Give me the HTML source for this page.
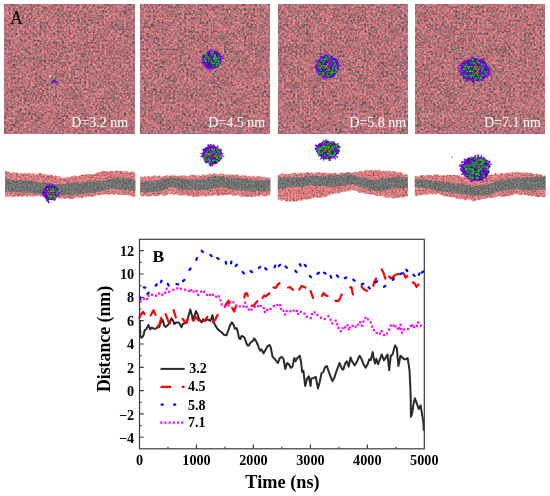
<!DOCTYPE html>
<html><head><meta charset="utf-8"><style>
html,body{margin:0;padding:0;background:#fff;width:550px;height:496px;overflow:hidden}
svg{display:block}
</style></head><body>
<svg width="550" height="496" viewBox="0 0 550 496">
<defs>
<filter id="tex" x="0" y="0" width="100%" height="100%" color-interpolation-filters="sRGB">
 <feTurbulence type="fractalNoise" baseFrequency="0.45" numOctaves="2" seed="7" result="n0"/>
 <feColorMatrix in="n0" type="matrix" values="1 0 0 0 0  0 1 0 0 0  0 0 1 0 0  0 0 0 0 1" result="n"/>
 <feTurbulence type="fractalNoise" baseFrequency="0.09" numOctaves="3" seed="3" result="l0"/>
 <feColorMatrix in="l0" type="matrix" values="1 0 0 0 0  1 0 0 0 0  1 0 0 0 0  0 0 0 0 1" result="lf"/>
 <feComposite in="n" in2="lf" operator="arithmetic" k1="0" k2="1" k3="0.14" k4="-0.07" result="nm"/>
 <feColorMatrix in="nm" type="matrix" values="3 0 0 0 -0.760  0 3 0 0 -1  0 0 0 0 0  0 0 0 0 1" result="t"/>
 <feColorMatrix in="t" type="matrix" values="0.471 0.173 0 0 0.290  0.055 0.173 0 0 0.322  0.047 0.173 0 0 0.353  0 0 0 0 1"/>
 <feGaussianBlur stdDeviation="0.3"/>
</filter>
<filter id="mpink" x="0" y="0" width="100%" height="100%" color-interpolation-filters="sRGB">
 <feTurbulence type="fractalNoise" baseFrequency="0.6" numOctaves="2" seed="11" result="n0"/>
 <feColorMatrix in="n0" type="matrix" values="1 0 0 0 0  0 1 0 0 0  0 0 1 0 0  0 0 0 0 1" result="n"/>
 <feTurbulence type="fractalNoise" baseFrequency="0.09" numOctaves="3" seed="3" result="l0"/>
 <feColorMatrix in="l0" type="matrix" values="1 0 0 0 0  1 0 0 0 0  1 0 0 0 0  0 0 0 0 1" result="lf"/>
 <feComposite in="n" in2="lf" operator="arithmetic" k1="0" k2="1" k3="0.12" k4="-0.06" result="nm"/>
 <feColorMatrix in="nm" type="matrix" values="4 0 0 0 -0.780  0 3 0 0 -1  0 0 0 0 0  0 0 0 0 1" result="t"/>
 <feColorMatrix in="t" type="matrix" values="0.341 0.196 0 0 0.431  0.141 0.196 0 0 0.255  0.125 0.196 0 0 0.275  0 0 0 0 1"/>
 <feComposite in2="SourceGraphic" operator="in"/>
</filter>
<filter id="mgrey" x="0" y="0" width="100%" height="100%" color-interpolation-filters="sRGB">
 <feTurbulence type="fractalNoise" baseFrequency="0.6" numOctaves="2" seed="13" result="n0"/>
 <feColorMatrix in="n0" type="matrix" values="1 0 0 0 0  0 1 0 0 0  0 0 1 0 0  0 0 0 0 1" result="n"/>
 <feTurbulence type="fractalNoise" baseFrequency="0.09" numOctaves="3" seed="3" result="l0"/>
 <feColorMatrix in="l0" type="matrix" values="1 0 0 0 0  1 0 0 0 0  1 0 0 0 0  0 0 0 0 1" result="lf"/>
 <feComposite in="n" in2="lf" operator="arithmetic" k1="0" k2="1" k3="0.12" k4="-0.06" result="nm"/>
 <feColorMatrix in="nm" type="matrix" values="4 0 0 0 -2.540  0 3 0 0 -1  0 0 0 0 0  0 0 0 0 1" result="t"/>
 <feColorMatrix in="t" type="matrix" values="0.275 0.157 0 0 0.353  -0.008 0.157 0 0 0.369  0.012 0.157 0 0 0.365  0 0 0 0 1"/>
 <feComposite in2="SourceGraphic" operator="in"/>
</filter>
</defs>
<rect x="4" y="4" width="131" height="130" fill="#c87078" filter="url(#tex)"/>
<rect x="140" y="4" width="130" height="130" fill="#c87078" filter="url(#tex)"/>
<rect x="278" y="4" width="130" height="130" fill="#c87078" filter="url(#tex)"/>
<rect x="415" y="4" width="130" height="130" fill="#c87078" filter="url(#tex)"/>
<polygon points="5.0,171.3 6.3,171.3 7.6,171.8 8.8,171.4 10.1,172.8 11.4,173.0 12.7,173.0 13.9,172.1 15.2,172.8 16.4,172.5 17.6,172.4 18.9,173.7 20.1,173.9 21.4,172.2 22.6,173.7 23.8,173.3 25.1,172.9 26.3,172.8 27.5,173.5 28.8,173.2 30.0,173.6 31.3,173.7 32.5,172.8 33.8,174.0 35.1,174.4 36.4,174.4 37.6,173.9 38.9,172.9 40.2,172.9 41.4,173.2 42.7,174.7 44.0,173.7 45.3,174.0 46.5,175.2 47.8,174.3 49.1,174.9 50.4,174.9 51.7,174.4 52.9,175.6 54.2,176.2 55.5,175.2 56.8,175.7 58.0,176.4 59.3,176.1 60.5,177.3 61.8,178.3 63.1,177.9 64.4,177.5 65.6,178.0 66.9,176.6 68.2,177.2 69.5,176.7 70.7,176.9 72.0,175.8 73.3,176.8 74.6,175.4 75.8,175.4 77.1,176.3 78.4,176.4 79.6,175.3 80.9,175.0 82.2,174.6 83.4,174.5 84.7,175.0 86.0,174.1 87.2,173.9 88.5,174.3 89.8,173.7 91.1,174.4 92.3,174.6 93.6,174.4 94.8,173.5 96.1,173.0 97.3,172.8 98.6,171.7 99.8,172.7 101.1,171.6 102.3,171.3 103.6,170.5 104.8,171.2 106.0,171.4 107.2,171.0 108.5,171.8 109.7,171.4 110.9,170.6 112.1,171.1 113.3,171.8 114.5,171.0 115.8,171.2 117.0,170.1 118.2,170.9 119.4,170.9 120.6,170.9 121.9,171.1 123.1,171.5 124.3,171.5 125.5,171.5 126.8,171.0 128.0,171.7 129.2,172.7 130.4,171.8 131.6,171.2 132.9,171.3 134.1,172.4 135.3,172.4 135.3,196.4 134.1,196.6 132.9,196.9 131.6,196.2 130.4,195.6 129.2,195.4 128.0,195.2 126.8,195.1 125.5,195.3 124.3,195.0 123.1,194.7 121.9,194.9 120.6,194.5 119.4,195.1 118.2,195.2 117.0,194.0 115.8,194.0 114.5,194.9 113.3,194.4 112.1,194.0 110.9,194.1 109.7,194.5 108.5,195.2 107.2,194.2 106.0,194.5 104.8,194.2 103.6,195.3 102.3,194.3 101.1,194.9 99.8,195.3 98.6,194.9 97.3,196.0 96.1,195.1 94.8,196.5 93.6,196.3 92.3,197.1 91.1,196.9 89.8,196.3 88.5,197.0 87.2,196.0 86.0,197.7 84.7,196.4 83.4,197.9 82.2,198.3 80.9,197.4 79.6,197.7 78.4,197.9 77.1,197.2 75.8,197.7 74.6,198.2 73.3,199.1 72.0,198.7 70.7,199.1 69.5,199.4 68.2,198.1 66.9,198.6 65.6,198.8 64.4,198.9 63.1,198.1 61.8,198.6 60.5,198.8 59.3,198.7 58.0,197.7 56.7,197.8 55.4,198.3 54.2,197.1 52.9,197.3 51.6,197.2 50.3,198.2 49.1,197.8 47.8,196.4 46.5,196.5 45.2,196.4 44.0,197.3 42.7,196.4 41.4,197.1 40.2,196.1 38.9,195.9 37.6,195.7 36.4,196.6 35.1,195.7 33.8,196.4 32.5,196.9 31.3,196.5 30.0,196.1 28.8,195.9 27.5,197.0 26.2,195.9 25.0,195.8 23.8,196.2 22.5,197.2 21.2,196.0 20.0,195.7 18.8,197.3 17.5,196.2 16.2,195.8 15.0,196.5 13.8,197.0 12.5,197.1 11.2,196.6 10.0,195.9 8.8,197.1 7.5,196.8 6.2,196.6 5.0,197.0" fill="#d77a7c" filter="url(#mpink)"/><polygon points="5.0,179.7 6.2,179.5 7.5,179.2 8.8,180.0 10.0,179.5 11.2,179.6 12.5,179.8 13.8,180.2 15.0,180.6 16.2,180.0 17.5,180.7 18.8,180.7 20.0,179.9 21.2,179.8 22.5,180.0 23.8,180.9 25.0,180.7 26.2,181.1 27.5,181.3 28.8,181.0 30.0,180.9 31.3,180.6 32.5,180.7 33.8,181.8 35.1,181.9 36.4,182.2 37.6,182.1 38.9,182.4 40.2,182.6 41.4,183.1 42.7,182.3 44.0,182.9 45.3,182.8 46.5,183.6 47.8,183.8 49.1,183.2 50.4,183.1 51.7,183.4 52.9,183.6 54.2,184.3 55.5,184.0 56.8,184.4 58.0,183.9 59.3,184.1 60.5,183.7 61.8,184.3 63.1,183.9 64.4,184.0 65.6,183.9 66.9,183.1 68.2,182.3 69.5,183.3 70.7,183.2 72.0,182.6 73.3,182.5 74.6,183.0 75.8,182.1 77.1,182.1 78.4,182.6 79.6,182.5 80.9,182.4 82.2,182.5 83.4,182.0 84.7,181.7 86.0,181.4 87.2,181.2 88.5,181.3 89.8,181.2 91.1,181.4 92.3,181.2 93.6,180.9 94.8,180.7 96.1,180.9 97.3,180.6 98.6,181.0 99.8,180.8 101.1,180.8 102.3,180.3 103.6,180.4 104.8,180.4 106.0,180.5 107.2,179.7 108.5,179.2 109.7,179.4 110.9,178.5 112.1,178.5 113.3,177.9 114.5,178.3 115.8,177.7 117.0,177.6 118.2,177.8 119.4,177.8 120.6,177.2 121.9,177.9 123.1,177.5 124.3,178.6 125.5,178.4 126.8,179.0 128.0,178.4 129.2,179.2 130.4,178.6 131.6,179.6 132.9,179.2 134.1,178.9 135.3,179.6 135.3,191.3 134.1,190.6 132.9,191.0 131.6,190.7 130.4,190.9 129.2,190.4 128.0,190.1 126.8,190.6 125.5,189.8 124.3,190.3 123.1,189.3 121.9,189.0 120.6,190.0 119.4,189.6 118.2,189.5 116.8,188.8 115.5,188.9 114.1,189.1 112.7,189.0 111.4,189.0 110.0,188.8 108.8,189.8 107.5,189.4 106.2,189.5 105.0,190.7 103.8,190.5 102.5,190.7 101.2,191.6 100.0,192.3 98.7,191.4 97.4,191.6 96.2,192.5 94.9,192.2 93.6,192.9 92.3,193.1 91.1,192.8 89.8,192.4 88.5,192.8 87.2,193.6 86.0,193.1 84.7,194.0 83.4,194.3 82.2,194.0 80.9,193.9 79.6,193.8 78.4,193.9 77.1,194.8 75.8,194.6 74.6,194.6 73.3,194.4 72.0,195.2 70.7,194.6 69.5,195.4 68.2,195.5 66.9,194.5 65.6,195.1 64.4,195.7 63.1,194.9 61.8,195.6 60.5,194.9 59.3,195.3 58.0,195.3 56.7,195.1 55.4,194.3 54.2,194.7 52.9,194.3 51.6,195.0 50.3,194.9 49.1,194.2 47.8,194.5 46.5,193.8 45.2,193.4 44.0,193.3 42.7,193.3 41.4,193.8 40.2,193.3 38.9,193.8 37.6,193.8 36.4,192.8 35.1,193.7 33.8,193.6 32.5,193.1 31.3,192.6 30.0,193.6 28.8,192.4 27.5,193.0 26.2,192.3 25.0,193.2 23.8,192.5 22.5,192.6 21.2,192.6 20.0,191.9 18.8,192.7 17.5,191.7 16.2,192.1 15.0,192.6 13.8,191.9 12.5,191.6 11.2,192.2 10.0,192.5 8.8,191.7 7.5,191.3 6.2,192.3 5.0,191.8" fill="#737373" filter="url(#mgrey)"/>
<polygon points="140.3,176.4 141.6,176.6 142.9,177.2 144.2,176.3 145.5,176.4 146.8,176.5 148.1,175.7 149.4,176.3 150.7,176.4 152.0,176.7 153.3,175.4 154.5,175.7 155.8,175.3 157.1,176.6 158.4,176.3 159.7,175.1 160.9,176.7 162.2,176.7 163.5,176.1 164.8,176.0 166.1,175.3 167.4,175.0 168.7,176.0 170.0,175.2 171.2,175.4 172.4,175.4 173.6,175.0 174.8,175.7 176.0,175.6 177.2,176.3 178.5,175.6 179.7,175.8 180.9,175.5 182.1,175.7 183.3,175.3 184.5,174.9 185.7,176.2 186.9,176.2 188.1,175.9 189.3,175.7 190.5,175.0 191.8,174.8 193.0,174.9 194.2,174.5 195.4,175.8 196.6,175.1 197.8,175.9 199.0,175.1 200.2,176.0 201.4,175.7 202.7,174.0 203.9,174.3 205.1,175.4 206.3,174.5 207.5,175.3 208.7,174.1 209.9,173.4 211.2,174.3 212.4,174.4 213.6,173.4 214.8,173.1 216.0,173.6 217.2,174.8 218.4,174.5 219.6,173.4 220.8,173.7 222.0,173.5 223.2,173.5 224.4,174.9 225.6,173.8 226.8,174.5 228.0,174.4 229.3,174.0 230.6,175.1 231.9,174.0 233.2,175.0 234.5,174.2 235.8,174.8 237.1,174.5 238.4,174.6 239.7,176.0 241.0,175.7 242.2,175.0 243.5,176.1 244.7,175.1 245.9,175.5 247.2,176.5 248.4,176.2 249.7,175.4 250.9,177.1 252.1,175.8 253.4,176.0 254.6,177.1 255.8,176.3 257.0,176.3 258.2,176.0 259.4,176.1 260.6,177.0 261.8,176.5 263.1,177.2 264.3,176.8 265.5,177.0 266.7,178.0 267.9,177.2 269.1,177.4 270.3,177.3 270.3,195.7 269.1,195.3 267.9,195.0 266.7,196.5 265.5,195.9 264.3,196.5 263.1,196.6 261.8,195.3 260.6,195.5 259.4,196.9 258.2,195.8 257.0,196.1 255.8,196.3 254.6,197.1 253.3,196.6 252.0,197.2 250.6,197.3 249.3,196.2 248.0,197.2 246.7,197.1 245.3,196.7 244.0,196.7 242.7,196.2 241.5,196.8 240.2,196.7 239.0,195.2 237.8,195.2 236.6,195.4 235.3,195.8 234.1,195.2 232.9,196.2 231.7,195.0 230.4,194.6 229.2,194.5 228.0,195.1 226.8,195.1 225.6,195.2 224.4,194.6 223.2,195.6 222.0,195.3 220.8,195.2 219.6,195.3 218.4,196.3 217.2,195.8 216.0,194.8 214.8,194.7 213.6,195.4 212.4,196.6 211.2,195.5 209.9,195.7 208.7,195.6 207.5,195.8 206.3,196.7 205.1,196.8 203.9,195.6 202.7,196.8 201.4,196.2 200.2,195.7 199.0,196.8 197.8,196.5 196.6,196.7 195.4,196.7 194.2,196.8 193.0,196.9 191.8,195.5 190.5,196.4 189.3,195.4 188.1,196.5 186.9,194.9 185.7,195.1 184.5,195.6 183.3,195.2 182.1,195.5 180.9,195.2 179.7,195.9 178.5,194.3 177.2,195.5 176.0,194.2 174.8,194.4 173.6,195.4 172.4,193.7 171.2,194.3 170.0,193.9 168.7,193.6 167.4,194.8 166.1,195.5 164.8,195.4 163.5,196.1 162.2,194.6 160.9,195.1 159.6,195.3 158.3,196.5 157.0,195.4 155.7,196.4 154.4,196.0 153.1,195.3 151.9,195.7 150.6,196.2 149.3,196.2 148.0,196.8 146.7,196.7 145.4,195.7 144.2,196.2 142.9,196.4 141.6,196.5 140.3,195.6" fill="#d77a7c" filter="url(#mpink)"/><polygon points="140.3,180.9 141.6,181.0 142.9,181.4 144.2,181.7 145.5,181.1 146.8,181.0 148.1,181.2 149.4,181.8 150.7,181.1 152.0,181.5 153.3,181.2 154.5,180.3 155.8,180.5 157.1,180.2 158.4,179.9 159.7,180.3 160.9,179.0 162.2,178.7 163.5,179.5 164.8,178.6 166.1,178.0 167.4,177.9 168.7,177.6 170.0,178.0 171.2,177.3 172.4,177.4 173.6,178.0 174.8,178.0 176.0,178.6 177.2,178.6 178.5,178.1 179.7,178.1 180.9,179.0 182.1,179.3 183.3,178.2 184.5,179.2 185.7,179.4 186.9,179.2 188.1,178.7 189.3,179.5 190.5,179.5 191.8,178.9 193.0,179.5 194.2,179.0 195.4,178.9 196.6,179.3 197.8,179.3 199.0,179.5 200.2,179.5 201.5,179.5 202.7,179.5 203.9,179.2 205.2,179.0 206.4,178.5 207.8,177.5 209.3,176.9 210.7,177.0 212.2,176.5 213.6,176.2 214.8,175.6 216.0,175.9 217.2,176.9 218.4,176.6 219.6,176.9 220.8,176.3 222.0,176.8 223.2,177.5 224.4,177.3 225.6,177.8 226.8,177.0 228.0,177.4 229.2,178.0 230.4,177.7 231.7,178.2 232.9,178.0 234.1,177.6 235.3,177.7 236.6,178.9 237.8,178.0 239.0,178.2 240.2,178.5 241.5,179.0 242.7,179.3 244.0,179.0 245.3,179.1 246.7,179.6 248.0,179.1 249.3,179.4 250.6,179.8 252.0,179.9 253.3,179.3 254.6,179.5 255.8,179.6 257.0,180.3 258.2,180.2 259.4,180.6 260.6,180.3 261.8,179.7 263.1,180.3 264.3,180.6 265.5,179.8 266.7,179.4 267.9,179.9 269.1,179.7 270.3,180.0 270.3,191.6 269.0,191.3 267.8,191.4 266.5,191.1 265.2,191.6 264.0,191.2 262.7,191.0 261.4,191.7 260.1,191.1 258.9,190.9 257.6,191.0 256.3,191.1 255.1,191.7 253.8,191.7 252.5,191.8 251.3,191.2 250.0,191.8 248.8,191.0 247.6,191.5 246.4,190.7 245.2,191.0 244.0,190.3 242.8,190.3 241.5,191.0 240.3,190.2 239.1,190.1 237.9,190.3 236.7,190.2 235.5,189.7 234.3,189.3 233.1,189.9 231.8,189.5 230.6,188.8 229.4,188.8 228.2,188.7 227.0,188.3 225.8,188.4 224.6,187.2 223.3,187.6 222.1,186.7 220.9,187.2 219.7,187.6 218.5,187.8 217.2,187.1 216.0,187.4 214.8,187.7 213.6,188.2 212.2,188.9 210.7,189.6 209.2,189.5 207.8,190.1 206.5,189.8 205.3,190.3 204.0,190.1 202.8,189.8 201.5,189.7 200.3,190.3 199.0,190.5 197.8,190.6 196.6,190.3 195.4,190.5 194.2,189.8 193.0,190.0 191.8,190.6 190.5,190.6 189.3,189.7 188.1,190.1 186.9,190.1 185.7,189.6 184.5,189.3 183.1,190.1 181.6,189.5 180.2,189.5 178.7,188.2 177.3,188.6 176.1,187.7 174.9,188.2 173.7,187.9 172.4,187.1 171.2,187.6 170.0,187.3 168.7,187.1 167.3,188.8 166.0,188.7 164.7,189.7 163.4,190.1 162.1,189.9 160.9,190.9 159.6,190.6 158.3,190.9 157.0,191.6 155.7,192.2 154.4,192.0 153.1,192.2 151.9,192.0 150.6,192.2 149.3,191.9 148.0,192.1 146.7,192.4 145.4,192.3 144.2,192.7 142.9,191.9 141.6,192.0 140.3,192.3" fill="#737373" filter="url(#mgrey)"/>
<polygon points="277.8,174.5 279.1,174.7 280.3,174.6 281.6,173.6 282.8,173.3 284.1,173.8 285.3,173.5 286.6,174.4 287.8,174.1 289.1,173.9 290.3,173.7 291.6,173.8 292.8,172.8 294.1,173.2 295.4,172.6 296.6,173.9 297.9,172.4 299.2,173.7 300.5,172.3 301.7,173.4 303.0,172.7 304.3,172.8 305.6,173.5 306.8,172.0 308.1,172.0 309.4,173.5 310.7,172.7 311.9,171.9 313.2,173.5 314.5,173.5 315.7,172.0 317.0,172.6 318.3,172.1 319.6,172.5 320.8,173.1 322.1,172.3 323.4,173.3 324.7,172.2 325.9,172.5 327.2,173.7 328.5,173.0 329.8,173.1 331.0,173.4 332.3,173.3 333.6,173.0 334.8,172.3 336.1,173.5 337.4,173.9 338.6,173.8 339.9,173.2 341.2,172.6 342.5,172.5 343.7,173.0 345.0,172.9 346.4,171.9 347.7,172.1 349.1,172.3 350.4,172.5 351.8,173.0 353.1,172.4 354.4,171.4 355.7,172.6 357.0,171.7 358.3,171.7 359.6,170.9 361.0,171.1 362.3,170.9 363.6,171.4 364.9,170.0 366.2,170.6 367.5,169.9 368.8,170.9 370.1,169.7 371.4,170.1 372.8,170.2 374.1,170.7 375.4,169.7 376.7,170.4 378.0,170.0 379.3,170.1 380.6,170.5 381.9,171.4 383.2,170.6 384.5,171.6 385.9,170.2 387.2,171.6 388.5,170.7 389.8,170.4 391.1,171.5 392.4,171.8 393.7,170.5 395.0,171.2 396.2,172.4 397.5,171.9 398.8,172.0 400.1,171.9 401.4,172.2 402.7,173.5 403.9,174.4 405.2,174.7 406.5,174.1 407.8,174.4 407.8,196.6 406.5,195.8 405.2,197.6 403.9,197.1 402.7,197.6 401.4,197.7 400.1,197.0 398.8,197.7 397.5,197.9 396.2,197.6 395.0,198.2 393.7,198.8 392.4,198.2 391.1,197.8 389.8,197.6 388.5,198.0 387.2,197.1 385.9,197.8 384.5,197.4 383.2,196.4 381.9,195.6 380.6,196.5 379.3,195.5 378.0,196.1 376.7,196.1 375.4,195.5 374.1,194.4 372.8,194.4 371.4,194.5 370.1,194.3 368.8,194.1 367.5,194.3 366.2,193.4 364.9,194.3 363.6,192.5 362.3,192.7 361.0,192.5 359.6,192.9 358.3,192.4 357.0,191.1 355.7,190.8 354.4,190.2 353.1,191.0 351.8,189.6 350.5,190.7 349.2,191.2 347.9,191.0 346.6,191.5 345.2,191.8 343.9,191.6 342.6,192.3 341.3,192.2 340.0,192.4 338.7,193.7 337.4,193.5 336.1,193.3 334.9,193.8 333.6,194.0 332.3,195.1 331.0,194.0 329.8,195.4 328.5,195.0 327.3,195.7 326.0,197.1 324.7,197.5 323.4,196.3 322.2,197.3 320.9,197.9 319.6,197.7 318.3,196.9 317.0,198.1 315.8,196.9 314.5,197.6 313.2,197.9 311.9,197.9 310.7,199.0 309.4,198.9 308.1,199.5 306.9,199.2 305.6,200.0 304.3,199.1 303.0,199.6 301.8,200.5 300.5,201.3 299.2,199.9 297.9,201.1 296.7,201.6 295.4,201.2 294.1,201.7 292.8,201.2 291.5,200.8 290.3,202.0 289.0,200.7 287.7,202.0 286.5,200.9 285.2,201.2 284.0,200.1 282.8,200.1 281.5,201.4 280.3,199.5 279.0,199.5 277.8,200.8" fill="#d77a7c" filter="url(#mpink)"/><polygon points="277.8,177.2 279.1,177.3 280.3,177.4 281.6,178.0 282.8,177.5 284.1,177.7 285.3,176.9 286.6,177.4 287.8,177.7 289.1,177.3 290.3,177.8 291.6,177.7 292.8,177.0 294.1,176.5 295.4,177.4 296.6,176.6 297.9,176.4 299.2,177.2 300.5,177.3 301.7,177.3 303.0,177.4 304.3,176.4 305.6,176.2 306.8,176.2 308.1,177.2 309.4,176.2 310.7,176.2 311.9,176.0 313.2,176.0 314.5,175.9 315.7,176.2 317.0,176.0 318.3,176.1 319.6,176.8 320.8,175.8 322.1,176.6 323.4,176.4 324.7,176.2 325.9,176.1 327.2,176.3 328.5,176.0 329.8,175.6 331.0,175.6 332.3,175.5 333.6,175.5 334.9,176.1 336.1,175.3 337.4,174.8 338.7,175.1 340.0,175.4 341.3,174.9 342.6,175.2 343.9,174.5 345.2,174.5 346.6,175.2 347.9,174.5 349.2,174.8 350.5,174.9 351.8,174.6 353.1,174.4 354.4,174.7 355.7,176.2 357.0,176.2 358.3,176.9 359.6,176.6 361.0,177.5 362.3,177.7 363.6,177.8 364.9,178.0 366.2,178.3 367.5,178.4 368.8,179.0 370.1,179.8 371.4,179.5 372.7,180.7 374.0,180.1 375.3,179.9 376.7,179.9 378.0,179.4 379.3,178.6 380.6,178.5 381.9,178.0 383.2,177.8 384.5,178.7 385.9,178.1 387.2,178.4 388.5,177.9 389.8,177.2 391.1,177.8 392.4,177.5 393.7,176.9 395.0,176.5 396.2,176.8 397.5,176.6 398.8,176.8 400.1,176.5 401.4,177.3 402.7,177.6 403.9,176.7 405.2,177.3 406.5,177.1 407.8,177.0 407.8,188.1 406.5,187.6 405.2,188.6 403.9,188.8 402.7,188.4 401.4,189.0 400.1,188.3 398.8,188.0 397.5,188.5 396.2,189.0 395.0,188.8 393.7,188.3 392.4,188.3 391.1,188.6 389.8,189.3 388.5,190.2 387.2,189.5 385.9,190.0 384.5,190.8 383.2,190.7 381.9,190.6 380.6,191.2 379.3,191.1 378.0,190.9 376.7,190.8 375.4,191.1 374.1,190.2 372.8,190.3 371.4,189.6 370.1,190.0 368.8,189.9 367.5,188.7 366.2,188.5 364.9,188.1 363.6,187.3 362.3,187.1 361.0,187.3 359.6,186.9 358.3,186.3 357.0,185.6 355.7,185.3 354.4,185.2 353.1,184.1 351.8,184.0 350.5,184.9 349.2,184.4 347.9,185.1 346.6,185.4 345.2,185.9 343.9,185.3 342.6,185.5 341.3,185.8 340.0,186.0 338.7,186.5 337.4,186.3 336.1,186.3 334.9,186.6 333.6,186.6 332.3,187.0 331.0,186.7 329.8,186.2 328.5,186.8 327.3,186.4 326.0,186.4 324.7,186.1 323.4,186.3 322.2,185.9 320.9,185.6 319.6,186.3 318.3,185.7 317.0,185.9 315.8,185.9 314.5,185.6 313.2,185.8 311.9,185.0 310.7,185.2 309.4,185.6 308.1,186.4 306.9,185.6 305.6,185.9 304.3,186.5 303.0,186.7 301.8,185.9 300.5,187.0 299.2,186.8 297.9,186.5 296.7,187.0 295.4,187.3 294.1,186.9 292.8,186.8 291.5,187.5 290.3,187.3 289.0,187.2 287.7,187.8 286.5,187.6 285.2,188.8 284.0,188.8 282.8,189.1 281.5,188.8 280.3,189.1 279.0,189.0 277.8,190.0" fill="#737373" filter="url(#mgrey)"/>
<polygon points="414.8,175.7 416.0,176.4 417.3,176.3 418.5,176.5 419.8,175.2 421.0,175.2 422.2,175.0 423.5,175.1 424.7,175.9 426.0,174.8 427.3,175.4 428.5,174.8 429.8,174.9 431.1,175.0 432.4,175.7 433.7,175.2 434.9,174.1 436.2,174.5 437.5,174.2 438.8,175.5 440.0,175.4 441.3,175.4 442.6,175.4 443.9,175.2 445.1,175.6 446.4,175.3 447.7,174.4 448.9,175.4 450.2,174.8 451.5,175.4 452.7,175.2 454.0,175.1 455.3,175.1 456.5,175.3 457.8,175.2 459.1,175.0 460.4,176.4 461.6,176.5 462.9,177.0 464.1,176.3 465.3,176.0 466.5,176.2 467.7,175.0 468.9,175.9 470.2,175.3 471.4,174.7 472.6,174.7 473.8,175.2 475.0,174.6 476.2,174.9 477.5,175.1 478.7,174.7 479.9,174.2 481.2,174.8 482.4,174.3 483.7,174.3 484.9,174.2 486.1,174.4 487.4,173.9 488.6,174.9 489.8,175.3 491.1,174.1 492.3,174.6 493.6,174.9 494.8,173.1 496.1,173.2 497.3,174.3 498.6,174.2 499.8,173.7 501.1,172.7 502.3,173.0 503.5,173.7 504.8,173.6 506.0,173.4 507.2,172.2 508.5,173.2 509.7,172.2 511.0,172.7 512.2,171.5 513.4,172.9 514.7,172.1 515.9,172.2 517.1,171.4 518.4,172.3 519.6,172.3 520.9,172.5 522.1,172.2 523.4,173.0 524.6,172.4 525.9,172.4 527.1,172.3 528.4,173.4 529.6,172.5 530.8,172.9 532.0,172.8 533.3,174.1 534.5,174.1 535.7,174.3 536.9,173.6 538.2,174.5 539.4,174.6 540.6,174.3 541.8,174.4 543.1,176.4 544.3,175.0 545.5,175.9 545.5,197.1 544.3,197.2 543.1,197.5 541.8,197.1 540.6,196.5 539.4,196.9 538.2,197.2 536.9,196.9 535.7,196.9 534.5,195.8 533.3,195.9 532.0,196.6 530.8,195.7 529.6,195.3 528.4,196.1 527.1,195.5 525.9,194.7 524.6,195.2 523.4,194.3 522.1,194.4 520.9,195.6 519.6,195.5 518.4,194.0 517.1,194.4 515.9,193.5 514.7,193.9 513.4,194.5 512.2,195.7 511.0,194.8 509.7,195.7 508.5,196.3 507.2,195.7 506.0,196.6 504.8,196.6 503.5,197.1 502.3,196.7 501.1,197.1 499.8,195.8 498.6,196.6 497.3,196.1 496.1,197.8 494.8,196.5 493.6,198.0 492.3,197.5 491.1,198.2 489.8,197.7 488.6,197.2 487.4,198.6 486.1,198.7 484.9,199.1 483.7,198.2 482.4,198.8 481.2,199.6 479.9,200.3 478.7,199.7 477.5,200.0 476.2,200.5 475.0,200.7 473.8,201.4 472.6,200.9 471.4,200.2 470.2,199.6 468.9,199.6 467.7,199.5 466.5,199.5 465.3,200.4 464.1,199.4 462.9,199.0 461.6,198.8 460.4,199.4 459.1,198.8 457.8,198.8 456.5,198.7 455.3,198.1 454.0,197.1 452.7,197.3 451.5,197.6 450.2,197.2 448.9,196.5 447.7,196.9 446.4,195.9 445.1,196.7 443.9,195.7 442.6,195.5 441.3,195.0 440.0,195.0 438.8,193.4 437.5,193.6 436.2,194.5 434.9,194.2 433.7,194.1 432.4,194.8 431.1,193.8 429.8,193.8 428.5,194.7 427.3,194.4 426.0,195.0 424.7,194.6 423.5,194.5 422.2,195.3 421.0,195.1 419.8,195.4 418.5,194.5 417.3,195.9 416.0,196.0 414.8,196.0" fill="#d77a7c" filter="url(#mpink)"/><polygon points="414.8,178.7 416.0,178.8 417.3,179.2 418.5,178.6 419.8,179.1 421.0,179.5 422.2,179.6 423.5,178.8 424.7,179.5 426.0,179.6 427.3,179.7 428.5,180.4 429.8,180.1 431.1,180.2 432.4,181.0 433.7,180.8 434.9,180.6 436.2,180.8 437.5,181.2 438.8,180.8 440.0,181.6 441.3,181.9 442.6,181.6 443.9,182.3 445.1,182.5 446.4,182.2 447.7,182.5 448.9,181.9 450.2,182.0 451.5,183.3 452.7,182.6 454.0,182.7 455.3,183.7 456.5,183.7 457.8,183.2 459.1,183.6 460.4,183.7 461.6,183.9 462.9,183.8 464.1,184.6 465.3,184.6 466.5,184.9 467.7,184.9 468.9,185.0 470.2,185.1 471.4,186.3 472.6,186.4 473.8,186.4 475.0,186.0 476.2,185.9 477.5,185.6 478.7,185.6 479.9,185.1 481.2,185.1 482.4,184.8 483.7,184.6 484.9,184.9 486.1,184.5 487.4,184.3 488.6,183.9 489.8,183.8 491.1,183.7 492.3,182.8 493.6,182.1 494.8,182.2 496.1,181.7 497.3,181.8 498.6,180.7 499.8,181.2 501.1,179.8 502.3,180.1 503.5,179.8 504.8,179.4 506.0,179.9 507.2,179.5 508.5,178.7 509.7,178.9 511.0,178.9 512.2,178.0 513.4,177.9 514.7,178.3 515.9,178.3 517.1,177.9 518.4,177.8 519.6,177.8 520.9,177.5 522.1,178.1 523.4,178.2 524.6,177.5 525.9,176.9 527.1,177.3 528.4,177.7 529.6,177.1 530.8,176.8 532.0,176.8 533.3,177.4 534.5,177.2 535.7,176.8 536.9,177.1 538.2,177.2 539.4,177.4 540.6,177.2 541.8,176.7 543.1,177.1 544.3,177.2 545.5,176.6 545.5,189.6 544.3,190.0 543.1,189.3 541.8,189.4 540.6,189.6 539.4,189.6 538.2,190.4 536.9,190.0 535.7,189.7 534.5,190.1 533.3,190.3 532.0,190.0 530.8,190.7 529.6,189.8 528.4,189.6 527.1,190.2 525.9,189.7 524.6,190.2 523.4,190.0 522.1,189.7 520.9,189.9 519.6,189.3 518.4,189.4 517.1,188.8 515.9,189.4 514.7,189.6 513.4,189.9 512.2,189.7 511.0,189.2 509.7,190.4 508.5,190.5 507.2,189.6 506.0,189.8 504.8,190.5 503.5,190.8 502.3,190.4 501.1,191.6 499.8,191.2 498.6,192.2 497.3,191.9 496.1,192.3 494.8,192.6 493.6,193.6 492.3,194.4 491.1,193.7 489.8,194.9 488.6,195.5 487.4,195.4 486.1,195.2 484.9,194.8 483.7,195.4 482.4,196.0 481.2,195.7 479.9,195.3 478.7,195.6 477.5,195.9 476.2,195.4 475.0,196.3 473.8,196.2 472.6,195.2 471.4,195.6 470.2,195.2 468.9,194.7 467.7,195.2 466.5,194.9 465.3,194.5 464.1,193.6 462.9,194.1 461.6,194.3 460.4,193.7 459.1,193.9 457.8,192.9 456.5,193.3 455.3,193.6 454.0,192.7 452.7,193.3 451.5,193.3 450.2,192.1 448.9,191.9 447.7,192.1 446.4,192.1 445.1,191.8 443.9,191.8 442.6,191.8 441.3,191.3 440.0,191.1 438.8,190.4 437.5,190.6 436.2,190.8 434.9,190.6 433.7,189.6 432.4,189.6 431.1,189.8 429.8,189.3 428.5,189.4 427.3,188.5 426.0,188.4 424.7,187.6 423.5,188.0 422.2,187.8 421.0,188.1 419.8,187.8 418.5,187.3 417.3,186.8 416.0,187.3 414.8,186.3" fill="#737373" filter="url(#mgrey)"/>
<circle cx="50" cy="76.4" r="1.1" fill="#f4e4e4"/><circle cx="48" cy="77" r="0.9" fill="#b04cc0"/><circle cx="52" cy="78.3" r="1.1" fill="#169a2a"/><circle cx="55.1" cy="78" r="1.1" fill="#169a2a"/><circle cx="52.9" cy="81.8" r="1.5" fill="#6a0cd8"/><circle cx="54.5" cy="80.6" r="1.2" fill="#5a08b8"/><circle cx="56.3" cy="82.4" r="1.3" fill="#7410e0"/>
<polygon points="221.5,57.4 220.7,59.5 221.9,61.6 220.8,63.5 219.6,65.1 218.3,66.7 216.6,67.9 214.5,68.4 212.5,69.0 210.3,69.3 208.1,68.9 206.7,67.1 205.3,65.7 204.4,64.0 203.0,62.5 202.9,60.5 202.1,58.4 203.3,56.6 204.7,55.1 206.0,53.6 207.6,52.5 209.3,50.9 211.5,50.9 213.7,50.8 215.8,51.2 217.7,52.4 219.5,53.7 220.0,55.8" fill="#3c0a7c"/>
<line x1="219.9" y1="59.1" x2="223.3" y2="58.7" stroke="#7a14e6" stroke-width="1.3" stroke-linecap="round"/>
<line x1="219.7" y1="57.9" x2="222.4" y2="57.1" stroke="#8a22f2" stroke-width="1.3" stroke-linecap="round"/>
<line x1="204.2" y1="61.8" x2="201.4" y2="62.5" stroke="#6a0cd6" stroke-width="1.3" stroke-linecap="round"/>
<line x1="210.5" y1="67.5" x2="210.0" y2="70.2" stroke="#8a22f2" stroke-width="1.3" stroke-linecap="round"/>
<line x1="215.9" y1="53.4" x2="217.3" y2="51.1" stroke="#6a0cd6" stroke-width="1.3" stroke-linecap="round"/>
<line x1="218.5" y1="55.5" x2="220.8" y2="53.9" stroke="#8a22f2" stroke-width="1.3" stroke-linecap="round"/>
<line x1="210.8" y1="52.5" x2="210.3" y2="49.7" stroke="#6a0cd6" stroke-width="1.3" stroke-linecap="round"/>
<circle cx="211.5" cy="54.8" r="1.10" fill="#26c426"/>
<circle cx="217.1" cy="64.0" r="1.31" fill="#1eb41e"/>
<circle cx="209.7" cy="54.5" r="1.18" fill="#5e0cc4"/>
<circle cx="207.0" cy="58.7" r="1.30" fill="#5e0cc4"/>
<circle cx="215.9" cy="52.3" r="1.03" fill="#5e0cc4"/>
<circle cx="220.5" cy="57.0" r="1.25" fill="#6a0cd6"/>
<circle cx="211.1" cy="52.6" r="1.22" fill="#8a22f2"/>
<circle cx="217.8" cy="65.6" r="1.04" fill="#6a0cd6"/>
<circle cx="214.1" cy="67.9" r="1.07" fill="#8a22f2"/>
<circle cx="209.4" cy="67.9" r="1.13" fill="#7a14e6"/>
<circle cx="218.7" cy="57.5" r="1.08" fill="#26c426"/>
<circle cx="210.3" cy="57.1" r="1.17" fill="#6a0cd6"/>
<circle cx="205.8" cy="56.7" r="1.10" fill="#1eb41e"/>
<circle cx="214.7" cy="55.3" r="1.22" fill="#26c426"/>
<circle cx="212.0" cy="68.3" r="1.17" fill="#7a14e6"/>
<circle cx="206.5" cy="54.7" r="1.26" fill="#1eb41e"/>
<circle cx="219.2" cy="59.6" r="1.30" fill="#6a0cd6"/>
<circle cx="214.1" cy="63.1" r="1.31" fill="#1eb41e"/>
<circle cx="205.8" cy="65.7" r="1.28" fill="#5e0cc4"/>
<circle cx="215.9" cy="61.0" r="1.16" fill="#26c426"/>
<circle cx="205.8" cy="61.1" r="1.16" fill="#26c426"/>
<circle cx="204.3" cy="63.4" r="1.30" fill="#6a0cd6"/>
<circle cx="212.3" cy="63.4" r="1.16" fill="#1eb41e"/>
<circle cx="208.6" cy="66.2" r="1.13" fill="#6a0cd6"/>
<circle cx="217.4" cy="55.1" r="1.14" fill="#5e0cc4"/>
<circle cx="212.0" cy="50.7" r="1.24" fill="#8a22f2"/>
<circle cx="202.1" cy="59.3" r="1.18" fill="#8a22f2"/>
<circle cx="206.6" cy="63.8" r="1.14" fill="#8a22f2"/>
<circle cx="218.6" cy="61.5" r="1.15" fill="#26c426"/>
<circle cx="206.7" cy="68.1" r="1.31" fill="#8a22f2"/>
<circle cx="211.2" cy="61.5" r="1.07" fill="#26c426"/>
<circle cx="202.9" cy="57.1" r="1.02" fill="#5e0cc4"/>
<circle cx="208.0" cy="57.1" r="1.14" fill="#18a028"/>
<circle cx="204.0" cy="55.3" r="1.13" fill="#6a0cd6"/>
<circle cx="204.7" cy="59.0" r="1.26" fill="#1eb41e"/>
<circle cx="220.7" cy="61.3" r="1.10" fill="#8a22f2"/>
<circle cx="209.4" cy="58.8" r="1.24" fill="#1eb41e"/>
<circle cx="219.0" cy="63.7" r="1.25" fill="#18a028"/>
<circle cx="217.0" cy="59.0" r="1.15" fill="#1eb41e"/>
<circle cx="212.8" cy="56.6" r="1.12" fill="#7a14e6"/>
<circle cx="210.5" cy="65.5" r="1.09" fill="#5e0cc4"/>
<circle cx="215.3" cy="57.2" r="1.21" fill="#26c426"/>
<circle cx="208.6" cy="61.2" r="1.05" fill="#18a028"/>
<circle cx="212.8" cy="52.5" r="1.32" fill="#26c426"/>
<circle cx="213.7" cy="61.2" r="1.14" fill="#5e0cc4"/>
<circle cx="214.2" cy="58.9" r="1.32" fill="#26c426"/>
<circle cx="219.2" cy="55.0" r="1.04" fill="#6a0cd6"/>
<circle cx="216.2" cy="65.8" r="1.10" fill="#1eb41e"/>
<circle cx="211.7" cy="58.8" r="1.06" fill="#7a14e6"/>
<circle cx="209.6" cy="63.4" r="1.03" fill="#5e0cc4"/>
<circle cx="208.6" cy="52.4" r="1.06" fill="#5e0cc4"/>
<circle cx="213.0" cy="65.7" r="1.04" fill="#18a028"/>
<circle cx="203.3" cy="60.9" r="1.22" fill="#8a22f2"/>
<polygon points="328.4,78.0 325.8,77.8 323.4,77.2 321.7,75.3 318.8,74.7 318.2,72.1 315.9,70.4 315.8,67.7 316.1,65.1 317.6,63.0 317.7,60.2 319.9,58.7 321.5,56.7 324.4,57.0 326.6,55.1 329.1,56.2 331.5,56.8 333.7,57.8 336.3,58.8 337.4,61.1 339.0,63.3 339.1,65.9 339.0,68.5 338.4,71.0 336.3,72.7 334.8,74.5 333.6,77.1 330.9,77.5" fill="#3c0a7c"/>
<line x1="324.5" y1="75.8" x2="323.4" y2="79.0" stroke="#6a0cd6" stroke-width="1.3" stroke-linecap="round"/>
<line x1="318.9" y1="62.6" x2="315.8" y2="61.0" stroke="#6a0cd6" stroke-width="1.3" stroke-linecap="round"/>
<line x1="319.2" y1="62.0" x2="315.8" y2="60.1" stroke="#8a22f2" stroke-width="1.3" stroke-linecap="round"/>
<line x1="335.8" y1="62.0" x2="338.3" y2="60.6" stroke="#6a0cd6" stroke-width="1.3" stroke-linecap="round"/>
<line x1="337.1" y1="66.3" x2="340.8" y2="66.1" stroke="#7a14e6" stroke-width="1.3" stroke-linecap="round"/>
<line x1="324.5" y1="57.8" x2="323.4" y2="54.8" stroke="#8a22f2" stroke-width="1.3" stroke-linecap="round"/>
<line x1="335.4" y1="61.5" x2="338.4" y2="59.5" stroke="#8a22f2" stroke-width="1.3" stroke-linecap="round"/>
<line x1="322.1" y1="59.0" x2="320.1" y2="56.0" stroke="#8a22f2" stroke-width="1.3" stroke-linecap="round"/>
<line x1="326.5" y1="76.2" x2="326.1" y2="79.1" stroke="#6a0cd6" stroke-width="1.3" stroke-linecap="round"/>
<circle cx="331.7" cy="57.3" r="1.21" fill="#6a0cd6"/>
<circle cx="326.4" cy="66.2" r="1.29" fill="#e07a20"/>
<circle cx="325.2" cy="67.9" r="1.06" fill="#c85a10"/>
<circle cx="331.3" cy="74.8" r="1.15" fill="#18a028"/>
<circle cx="335.8" cy="68.2" r="1.11" fill="#26c426"/>
<circle cx="328.0" cy="72.6" r="1.07" fill="#18a028"/>
<circle cx="327.8" cy="64.0" r="1.13" fill="#26c426"/>
<circle cx="323.9" cy="74.8" r="1.03" fill="#1eb41e"/>
<circle cx="321.3" cy="70.1" r="1.13" fill="#18a028"/>
<circle cx="321.5" cy="61.1" r="1.26" fill="#18a028"/>
<circle cx="335.2" cy="72.1" r="1.07" fill="#1eb41e"/>
<circle cx="327.5" cy="59.4" r="1.25" fill="#18a028"/>
<circle cx="329.2" cy="69.8" r="1.19" fill="#d86818"/>
<circle cx="332.7" cy="59.0" r="1.20" fill="#6a0cd6"/>
<circle cx="333.1" cy="68.3" r="1.18" fill="#1eb41e"/>
<circle cx="316.7" cy="70.4" r="1.13" fill="#8a22f2"/>
<circle cx="325.3" cy="59.2" r="1.29" fill="#26c426"/>
<circle cx="336.7" cy="65.8" r="1.21" fill="#8a22f2"/>
<circle cx="331.4" cy="61.3" r="1.29" fill="#8a22f2"/>
<circle cx="325.8" cy="71.9" r="1.24" fill="#6a0cd6"/>
<circle cx="322.2" cy="74.5" r="1.09" fill="#18a028"/>
<circle cx="323.9" cy="65.9" r="1.08" fill="#1eb41e"/>
<circle cx="330.5" cy="76.8" r="1.05" fill="#5e0cc4"/>
<circle cx="327.1" cy="70.5" r="1.06" fill="#1eb41e"/>
<circle cx="319.4" cy="61.9" r="1.03" fill="#7a14e6"/>
<circle cx="324.3" cy="57.1" r="1.18" fill="#5e0cc4"/>
<circle cx="329.6" cy="66.2" r="1.23" fill="#8a22f2"/>
<circle cx="318.4" cy="67.6" r="1.25" fill="#18a028"/>
<circle cx="336.4" cy="70.3" r="1.32" fill="#26c426"/>
<circle cx="326.9" cy="74.6" r="1.15" fill="#1eb41e"/>
<circle cx="337.9" cy="68.0" r="1.26" fill="#7a14e6"/>
<circle cx="331.9" cy="70.6" r="1.07" fill="#18a028"/>
<circle cx="334.0" cy="61.4" r="1.28" fill="#18a028"/>
<circle cx="325.2" cy="76.6" r="1.16" fill="#7a14e6"/>
<circle cx="325.2" cy="63.3" r="1.16" fill="#6a0cd6"/>
<circle cx="334.0" cy="65.6" r="1.15" fill="#26c426"/>
<circle cx="335.7" cy="59.0" r="1.26" fill="#7a14e6"/>
<circle cx="319.2" cy="74.2" r="1.18" fill="#5e0cc4"/>
<circle cx="316.7" cy="66.3" r="1.17" fill="#5e0cc4"/>
<circle cx="329.4" cy="75.0" r="1.15" fill="#6a0cd6"/>
<circle cx="323.3" cy="72.9" r="1.15" fill="#26c426"/>
<circle cx="320.3" cy="67.9" r="1.09" fill="#1eb41e"/>
<circle cx="328.1" cy="68.3" r="1.09" fill="#1eb41e"/>
<circle cx="328.5" cy="55.0" r="1.21" fill="#8a22f2"/>
<circle cx="325.7" cy="54.8" r="1.26" fill="#7a14e6"/>
<circle cx="332.8" cy="72.5" r="1.26" fill="#26c426"/>
<circle cx="323.1" cy="68.1" r="1.03" fill="#8a22f2"/>
<circle cx="333.3" cy="77.1" r="1.05" fill="#8a22f2"/>
<circle cx="331.9" cy="66.2" r="1.05" fill="#7a14e6"/>
<circle cx="333.4" cy="64.1" r="1.16" fill="#7a14e6"/>
<circle cx="318.5" cy="64.1" r="1.08" fill="#26c426"/>
<circle cx="321.8" cy="57.3" r="1.30" fill="#5e0cc4"/>
<circle cx="329.4" cy="61.8" r="1.25" fill="#8a22f2"/>
<circle cx="324.6" cy="70.7" r="1.08" fill="#8a22f2"/>
<circle cx="323.9" cy="61.8" r="1.12" fill="#18a028"/>
<circle cx="334.4" cy="70.5" r="1.27" fill="#6a0cd6"/>
<circle cx="320.6" cy="59.2" r="1.30" fill="#8a22f2"/>
<circle cx="320.1" cy="72.7" r="1.15" fill="#1eb41e"/>
<circle cx="319.0" cy="70.3" r="1.17" fill="#6a0cd6"/>
<circle cx="330.1" cy="67.7" r="1.30" fill="#5e0cc4"/>
<circle cx="330.7" cy="72.8" r="1.27" fill="#1eb41e"/>
<circle cx="322.5" cy="76.7" r="1.12" fill="#7a14e6"/>
<circle cx="330.3" cy="59.1" r="1.28" fill="#7a14e6"/>
<circle cx="315.1" cy="67.6" r="1.32" fill="#8a22f2"/>
<circle cx="329.3" cy="57.2" r="1.12" fill="#1eb41e"/>
<circle cx="336.7" cy="61.4" r="1.09" fill="#6a0cd6"/>
<circle cx="334.3" cy="74.5" r="1.20" fill="#6a0cd6"/>
<circle cx="326.5" cy="57.0" r="1.09" fill="#1eb41e"/>
<circle cx="320.7" cy="64.0" r="1.12" fill="#18a028"/>
<circle cx="326.4" cy="61.3" r="1.07" fill="#5e0cc4"/>
<circle cx="321.7" cy="66.2" r="1.20" fill="#1eb41e"/>
<circle cx="323.0" cy="63.5" r="1.05" fill="#8a22f2"/>
<circle cx="328.3" cy="76.4" r="1.20" fill="#18a028"/>
<circle cx="319.1" cy="65.6" r="1.14" fill="#8a22f2"/>
<circle cx="330.9" cy="63.9" r="1.27" fill="#8a22f2"/>
<circle cx="322.8" cy="59.2" r="1.06" fill="#1eb41e"/>
<circle cx="337.8" cy="63.9" r="1.12" fill="#7a14e6"/>
<circle cx="335.0" cy="63.9" r="1.23" fill="#18a028"/>
<circle cx="317.7" cy="71.9" r="1.20" fill="#7a14e6"/>
<polygon points="475.9,80.7 472.9,80.5 470.0,80.0 466.5,79.9 463.8,78.3 463.2,75.5 461.2,73.5 461.4,70.9 461.5,68.6 460.9,65.8 462.1,63.3 464.7,61.6 467.8,60.7 470.3,59.2 473.4,58.0 476.7,58.4 479.5,59.8 482.6,60.5 484.9,62.2 486.6,64.3 487.8,66.6 489.3,69.0 488.8,71.5 488.5,74.2 487.0,76.5 484.8,78.5 482.0,79.8 479.1,80.8" fill="#3c0a7c"/>
<line x1="463.8" y1="74.0" x2="460.3" y2="75.3" stroke="#6a0cd6" stroke-width="1.3" stroke-linecap="round"/>
<line x1="474.0" y1="79.6" x2="473.7" y2="83.4" stroke="#7a14e6" stroke-width="1.3" stroke-linecap="round"/>
<line x1="486.2" y1="72.8" x2="490.5" y2="73.8" stroke="#6a0cd6" stroke-width="1.3" stroke-linecap="round"/>
<line x1="462.8" y1="68.9" x2="458.2" y2="68.4" stroke="#8a22f2" stroke-width="1.3" stroke-linecap="round"/>
<line x1="468.1" y1="78.0" x2="465.3" y2="81.4" stroke="#7a14e6" stroke-width="1.3" stroke-linecap="round"/>
<line x1="485.7" y1="73.9" x2="490.2" y2="75.5" stroke="#8a22f2" stroke-width="1.3" stroke-linecap="round"/>
<line x1="466.6" y1="62.9" x2="463.9" y2="60.5" stroke="#6a0cd6" stroke-width="1.3" stroke-linecap="round"/>
<line x1="463.7" y1="73.8" x2="459.5" y2="75.2" stroke="#8a22f2" stroke-width="1.3" stroke-linecap="round"/>
<line x1="463.5" y1="66.5" x2="458.9" y2="65.1" stroke="#7a14e6" stroke-width="1.3" stroke-linecap="round"/>
<line x1="481.1" y1="61.9" x2="483.6" y2="58.7" stroke="#6a0cd6" stroke-width="1.3" stroke-linecap="round"/>
<circle cx="469.7" cy="62.5" r="1.07" fill="#1eb41e"/>
<circle cx="465.1" cy="62.2" r="1.24" fill="#7a14e6"/>
<circle cx="487.1" cy="71.5" r="1.06" fill="#18a028"/>
<circle cx="477.7" cy="71.4" r="1.09" fill="#e07a20"/>
<circle cx="484.6" cy="67.0" r="1.07" fill="#8a22f2"/>
<circle cx="478.6" cy="77.8" r="1.22" fill="#18a028"/>
<circle cx="471.8" cy="66.7" r="1.12" fill="#18a028"/>
<circle cx="480.2" cy="80.0" r="1.19" fill="#8a22f2"/>
<circle cx="487.3" cy="66.9" r="1.04" fill="#7a14e6"/>
<circle cx="477.3" cy="79.3" r="1.06" fill="#6a0cd6"/>
<circle cx="480.0" cy="75.7" r="1.18" fill="#7a14e6"/>
<circle cx="463.7" cy="69.0" r="1.30" fill="#18a028"/>
<circle cx="484.8" cy="62.6" r="1.10" fill="#6a0cd6"/>
<circle cx="486.2" cy="73.5" r="1.08" fill="#26c426"/>
<circle cx="476.4" cy="73.0" r="1.25" fill="#c85a10"/>
<circle cx="465.1" cy="66.4" r="1.03" fill="#26c426"/>
<circle cx="479.7" cy="66.9" r="1.04" fill="#26c426"/>
<circle cx="462.6" cy="67.0" r="1.26" fill="#5e0cc4"/>
<circle cx="462.5" cy="71.5" r="1.31" fill="#18a028"/>
<circle cx="472.5" cy="57.9" r="1.32" fill="#7a14e6"/>
<circle cx="487.4" cy="75.8" r="1.18" fill="#8a22f2"/>
<circle cx="471.1" cy="77.4" r="1.21" fill="#18a028"/>
<circle cx="481.1" cy="68.7" r="1.23" fill="#7a14e6"/>
<circle cx="472.0" cy="75.3" r="1.29" fill="#1eb41e"/>
<circle cx="484.4" cy="75.7" r="1.22" fill="#8a22f2"/>
<circle cx="461.4" cy="73.6" r="1.20" fill="#7a14e6"/>
<circle cx="478.0" cy="59.9" r="1.18" fill="#8a22f2"/>
<circle cx="472.6" cy="71.3" r="1.31" fill="#26c426"/>
<circle cx="467.5" cy="66.6" r="1.09" fill="#26c426"/>
<circle cx="486.3" cy="69.2" r="1.32" fill="#5e0cc4"/>
<circle cx="465.0" cy="75.4" r="1.19" fill="#18a028"/>
<circle cx="466.1" cy="64.4" r="1.19" fill="#18a028"/>
<circle cx="470.9" cy="59.9" r="1.07" fill="#8a22f2"/>
<circle cx="469.4" cy="67.1" r="1.23" fill="#26c426"/>
<circle cx="477.7" cy="75.1" r="1.13" fill="#26c426"/>
<circle cx="479.6" cy="71.4" r="1.26" fill="#6a0cd6"/>
<circle cx="473.9" cy="68.7" r="1.15" fill="#1eb41e"/>
<circle cx="470.7" cy="73.7" r="1.03" fill="#7a14e6"/>
<circle cx="464.9" cy="71.2" r="1.09" fill="#6a0cd6"/>
<circle cx="468.7" cy="60.1" r="1.14" fill="#5e0cc4"/>
<circle cx="468.6" cy="77.3" r="1.11" fill="#5e0cc4"/>
<circle cx="483.0" cy="68.4" r="1.08" fill="#1eb41e"/>
<circle cx="472.0" cy="62.8" r="1.15" fill="#1eb41e"/>
<circle cx="465.7" cy="73.7" r="1.12" fill="#8a22f2"/>
<circle cx="467.3" cy="71.4" r="1.12" fill="#1eb41e"/>
<circle cx="482.1" cy="70.6" r="1.17" fill="#1eb41e"/>
<circle cx="473.6" cy="77.4" r="1.14" fill="#7a14e6"/>
<circle cx="475.8" cy="69.0" r="1.25" fill="#1eb41e"/>
<circle cx="476.7" cy="66.5" r="1.16" fill="#d86818"/>
<circle cx="474.4" cy="70.9" r="1.12" fill="#5e0cc4"/>
<circle cx="478.5" cy="64.0" r="1.29" fill="#5e0cc4"/>
<circle cx="483.9" cy="73.0" r="1.28" fill="#8a22f2"/>
<circle cx="470.6" cy="69.2" r="1.15" fill="#5e0cc4"/>
<circle cx="461.4" cy="68.7" r="1.30" fill="#6a0cd6"/>
<circle cx="474.3" cy="62.8" r="1.18" fill="#1eb41e"/>
<circle cx="468.7" cy="72.9" r="1.20" fill="#6a0cd6"/>
<circle cx="481.8" cy="66.4" r="1.30" fill="#8a22f2"/>
<circle cx="478.1" cy="72.8" r="1.06" fill="#18a028"/>
<circle cx="481.8" cy="62.0" r="1.25" fill="#5e0cc4"/>
<circle cx="463.5" cy="64.9" r="1.08" fill="#8a22f2"/>
<circle cx="479.3" cy="62.8" r="1.24" fill="#18a028"/>
<circle cx="473.0" cy="81.6" r="1.25" fill="#5e0cc4"/>
<circle cx="467.5" cy="62.5" r="1.24" fill="#5e0cc4"/>
<circle cx="472.1" cy="80.1" r="1.24" fill="#7a14e6"/>
<circle cx="463.3" cy="72.8" r="1.28" fill="#6a0cd6"/>
<circle cx="481.0" cy="78.1" r="1.31" fill="#26c426"/>
<circle cx="459.7" cy="71.1" r="1.02" fill="#7a14e6"/>
<circle cx="470.1" cy="71.0" r="1.27" fill="#26c426"/>
<circle cx="466.3" cy="77.7" r="1.26" fill="#8a22f2"/>
<circle cx="482.0" cy="79.9" r="1.24" fill="#7a14e6"/>
<circle cx="480.8" cy="72.8" r="1.18" fill="#7a14e6"/>
<circle cx="469.6" cy="75.6" r="1.17" fill="#1eb41e"/>
<circle cx="473.7" cy="73.4" r="1.16" fill="#18a028"/>
<circle cx="484.7" cy="71.2" r="1.06" fill="#18a028"/>
<circle cx="488.9" cy="68.5" r="1.20" fill="#7a14e6"/>
<circle cx="461.3" cy="64.8" r="1.29" fill="#8a22f2"/>
<circle cx="481.3" cy="64.1" r="1.08" fill="#1eb41e"/>
<circle cx="477.4" cy="61.9" r="1.13" fill="#26c426"/>
<circle cx="489.4" cy="70.6" r="1.27" fill="#7a14e6"/>
<circle cx="483.0" cy="77.8" r="1.17" fill="#5e0cc4"/>
<circle cx="483.1" cy="59.7" r="1.06" fill="#6a0cd6"/>
<circle cx="475.0" cy="79.5" r="1.16" fill="#18a028"/>
<circle cx="482.3" cy="75.4" r="1.09" fill="#26c426"/>
<circle cx="480.7" cy="59.9" r="1.10" fill="#7a14e6"/>
<circle cx="485.7" cy="64.5" r="1.26" fill="#8a22f2"/>
<circle cx="470.5" cy="64.1" r="1.30" fill="#6a0cd6"/>
<circle cx="468.7" cy="64.5" r="1.22" fill="#5e0cc4"/>
<circle cx="478.4" cy="69.3" r="1.19" fill="#d86818"/>
<circle cx="466.9" cy="75.8" r="1.03" fill="#26c426"/>
<circle cx="468.6" cy="68.5" r="1.18" fill="#18a028"/>
<circle cx="474.2" cy="75.8" r="1.05" fill="#1eb41e"/>
<circle cx="465.6" cy="69.1" r="1.29" fill="#18a028"/>
<circle cx="488.9" cy="73.6" r="1.24" fill="#6a0cd6"/>
<circle cx="476.3" cy="60.5" r="1.27" fill="#6a0cd6"/>
<circle cx="474.7" cy="67.1" r="1.12" fill="#d86818"/>
<circle cx="483.3" cy="64.8" r="1.18" fill="#18a028"/>
<circle cx="463.9" cy="77.4" r="1.26" fill="#6a0cd6"/>
<circle cx="475.6" cy="64.4" r="1.15" fill="#18a028"/>
<circle cx="469.2" cy="79.7" r="1.26" fill="#7a14e6"/>
<circle cx="473.0" cy="60.1" r="1.23" fill="#1eb41e"/>
<circle cx="467.3" cy="79.3" r="1.23" fill="#5e0cc4"/>
<circle cx="476.3" cy="78.0" r="1.18" fill="#18a028"/>
<circle cx="473.4" cy="64.9" r="1.13" fill="#6a0cd6"/>
<polygon points="44.9,187.3 46.3,186.2 47.9,185.3 49.9,186.0 51.6,185.2 53.3,185.7 55.1,186.1 56.2,187.5 57.2,188.8 58.1,190.2 58.0,191.8 58.2,193.4 58.8,195.2 57.1,196.3 56.6,198.0 55.1,198.9 53.3,199.2 51.8,200.3 50.1,199.7 48.2,200.0 46.5,199.3 45.1,198.2 44.1,196.8 43.9,195.1 42.4,193.7 42.6,192.0 43.0,190.2 44.3,189.0" fill="#3c0a7c"/>
<line x1="54.1" y1="198.1" x2="55.2" y2="199.8" stroke="#7a14e6" stroke-width="1.3" stroke-linecap="round"/>
<line x1="47.5" y1="198.1" x2="46.2" y2="200.3" stroke="#8a22f2" stroke-width="1.3" stroke-linecap="round"/>
<line x1="57.4" y1="192.8" x2="60.0" y2="192.9" stroke="#6a0cd6" stroke-width="1.3" stroke-linecap="round"/>
<line x1="56.9" y1="195.2" x2="59.0" y2="196.1" stroke="#6a0cd6" stroke-width="1.3" stroke-linecap="round"/>
<line x1="44.2" y1="193.5" x2="42.0" y2="193.7" stroke="#6a0cd6" stroke-width="1.3" stroke-linecap="round"/>
<line x1="44.3" y1="193.8" x2="42.2" y2="194.1" stroke="#6a0cd6" stroke-width="1.3" stroke-linecap="round"/>
<circle cx="47.5" cy="189.2" r="1.11" fill="#26c426"/>
<circle cx="47.7" cy="197.9" r="1.20" fill="#6a0cd6"/>
<circle cx="55.2" cy="197.7" r="1.10" fill="#26c426"/>
<circle cx="52.8" cy="188.9" r="1.17" fill="#26c426"/>
<circle cx="54.2" cy="199.6" r="1.22" fill="#7a14e6"/>
<circle cx="55.4" cy="193.7" r="1.25" fill="#7a14e6"/>
<circle cx="48.7" cy="191.4" r="1.19" fill="#c85a10"/>
<circle cx="49.5" cy="184.6" r="1.09" fill="#7a14e6"/>
<circle cx="51.2" cy="191.2" r="1.11" fill="#e07a20"/>
<circle cx="52.2" cy="185.2" r="1.02" fill="#7a14e6"/>
<circle cx="52.8" cy="193.8" r="1.12" fill="#c85a10"/>
<circle cx="45.8" cy="187.5" r="1.12" fill="#5e0cc4"/>
<circle cx="48.6" cy="187.2" r="1.03" fill="#6a0cd6"/>
<circle cx="44.7" cy="189.3" r="1.29" fill="#7a14e6"/>
<circle cx="51.1" cy="196.1" r="1.20" fill="#e07a20"/>
<circle cx="57.1" cy="189.2" r="1.28" fill="#5e0cc4"/>
<circle cx="53.6" cy="186.9" r="1.29" fill="#6a0cd6"/>
<circle cx="43.9" cy="195.7" r="1.27" fill="#8a22f2"/>
<circle cx="46.7" cy="191.8" r="1.21" fill="#8a22f2"/>
<circle cx="48.9" cy="196.0" r="1.16" fill="#1eb41e"/>
<circle cx="53.4" cy="191.3" r="1.18" fill="#26c426"/>
<circle cx="47.7" cy="193.9" r="1.04" fill="#1eb41e"/>
<circle cx="53.9" cy="196.3" r="1.22" fill="#1eb41e"/>
<circle cx="57.0" cy="193.6" r="1.32" fill="#1eb41e"/>
<circle cx="44.1" cy="191.2" r="1.09" fill="#7a14e6"/>
<circle cx="51.1" cy="187.5" r="1.32" fill="#6a0cd6"/>
<circle cx="46.4" cy="196.1" r="1.20" fill="#6a0cd6"/>
<circle cx="55.4" cy="189.4" r="1.08" fill="#18a028"/>
<circle cx="50.4" cy="188.8" r="1.04" fill="#18a028"/>
<circle cx="52.0" cy="197.6" r="1.14" fill="#18a028"/>
<circle cx="56.3" cy="195.8" r="1.11" fill="#7a14e6"/>
<circle cx="50.2" cy="193.4" r="1.29" fill="#8a22f2"/>
<circle cx="50.3" cy="198.1" r="1.21" fill="#18a028"/>
<circle cx="56.7" cy="191.6" r="1.18" fill="#18a028"/>
<circle cx="55.8" cy="186.7" r="1.10" fill="#6a0cd6"/>
<circle cx="45.3" cy="193.9" r="1.26" fill="#6a0cd6"/>
<path d="M46.5,198.5L48.8,202.5" stroke="#7010d8" stroke-width="1.8" stroke-linecap="round"/>
<polygon points="214.8,145.8 216.5,147.4 218.3,148.6 219.9,149.9 221.6,151.4 222.1,153.5 221.9,155.6 221.8,157.7 220.8,159.6 219.6,161.4 217.7,162.5 216.0,163.9 213.8,164.2 211.5,164.5 209.2,164.6 207.6,162.8 205.0,162.6 204.1,160.5 203.4,158.6 202.1,156.9 202.0,154.8 202.4,152.7 203.4,150.9 204.7,149.3 205.6,147.0 208.1,146.8 210.1,145.7 212.5,145.7" fill="#3c0a7c"/>
<line x1="220.4" y1="154.0" x2="222.9" y2="153.7" stroke="#6a0cd6" stroke-width="1.3" stroke-linecap="round"/>
<line x1="212.3" y1="163.0" x2="212.4" y2="165.8" stroke="#6a0cd6" stroke-width="1.3" stroke-linecap="round"/>
<line x1="204.8" y1="151.0" x2="202.6" y2="149.7" stroke="#8a22f2" stroke-width="1.3" stroke-linecap="round"/>
<line x1="203.6" y1="154.0" x2="201.0" y2="153.6" stroke="#8a22f2" stroke-width="1.3" stroke-linecap="round"/>
<line x1="211.0" y1="163.0" x2="210.7" y2="166.0" stroke="#6a0cd6" stroke-width="1.3" stroke-linecap="round"/>
<line x1="203.6" y1="156.0" x2="200.9" y2="156.3" stroke="#7a14e6" stroke-width="1.3" stroke-linecap="round"/>
<line x1="216.3" y1="148.4" x2="218.0" y2="145.7" stroke="#8a22f2" stroke-width="1.3" stroke-linecap="round"/>
<line x1="220.5" y1="155.8" x2="223.8" y2="156.1" stroke="#7a14e6" stroke-width="1.3" stroke-linecap="round"/>
<circle cx="214.7" cy="152.0" r="1.27" fill="#8a22f2"/>
<circle cx="211.2" cy="154.0" r="1.22" fill="#18a028"/>
<circle cx="205.0" cy="152.4" r="1.05" fill="#7a14e6"/>
<circle cx="210.1" cy="164.7" r="1.27" fill="#6a0cd6"/>
<circle cx="207.4" cy="151.7" r="1.05" fill="#1eb41e"/>
<circle cx="220.9" cy="150.1" r="1.13" fill="#6a0cd6"/>
<circle cx="206.2" cy="162.5" r="1.07" fill="#6a0cd6"/>
<circle cx="209.1" cy="162.8" r="1.24" fill="#26c426"/>
<circle cx="219.9" cy="152.3" r="1.06" fill="#18a028"/>
<circle cx="211.0" cy="145.3" r="1.24" fill="#8a22f2"/>
<circle cx="213.4" cy="154.1" r="1.10" fill="#7a14e6"/>
<circle cx="207.4" cy="147.9" r="1.16" fill="#7a14e6"/>
<circle cx="211.2" cy="162.3" r="1.10" fill="#7a14e6"/>
<circle cx="219.3" cy="149.4" r="1.05" fill="#8a22f2"/>
<circle cx="204.2" cy="153.8" r="1.13" fill="#6a0cd6"/>
<circle cx="221.1" cy="158.1" r="1.30" fill="#7a14e6"/>
<circle cx="216.8" cy="162.6" r="1.13" fill="#5e0cc4"/>
<circle cx="213.1" cy="148.0" r="1.22" fill="#6a0cd6"/>
<circle cx="208.4" cy="158.8" r="1.14" fill="#1eb41e"/>
<circle cx="204.1" cy="158.1" r="1.15" fill="#1eb41e"/>
<circle cx="216.8" cy="158.1" r="1.11" fill="#26c426"/>
<circle cx="211.7" cy="158.8" r="1.17" fill="#7a14e6"/>
<circle cx="218.1" cy="151.6" r="1.18" fill="#1eb41e"/>
<circle cx="210.3" cy="152.1" r="1.07" fill="#8a22f2"/>
<circle cx="212.9" cy="160.8" r="1.19" fill="#1eb41e"/>
<circle cx="220.4" cy="156.3" r="1.24" fill="#26c426"/>
<circle cx="210.2" cy="147.4" r="1.23" fill="#6a0cd6"/>
<circle cx="209.7" cy="160.3" r="1.19" fill="#26c426"/>
<circle cx="204.1" cy="149.5" r="1.16" fill="#6a0cd6"/>
<circle cx="212.3" cy="156.5" r="1.22" fill="#7a14e6"/>
<circle cx="218.9" cy="158.7" r="1.29" fill="#18a028"/>
<circle cx="205.1" cy="160.2" r="1.21" fill="#1eb41e"/>
<circle cx="218.8" cy="154.3" r="1.18" fill="#8a22f2"/>
<circle cx="213.4" cy="158.8" r="1.24" fill="#5e0cc4"/>
<circle cx="206.4" cy="154.0" r="1.29" fill="#26c426"/>
<circle cx="216.9" cy="149.7" r="1.17" fill="#18a028"/>
<circle cx="206.7" cy="158.9" r="1.04" fill="#7a14e6"/>
<circle cx="209.8" cy="156.5" r="1.05" fill="#18a028"/>
<circle cx="207.4" cy="156.2" r="1.10" fill="#7a14e6"/>
<circle cx="202.9" cy="156.1" r="1.24" fill="#7a14e6"/>
<circle cx="221.5" cy="153.8" r="1.29" fill="#8a22f2"/>
<circle cx="208.9" cy="154.2" r="1.25" fill="#d86818"/>
<circle cx="217.3" cy="156.5" r="1.26" fill="#1eb41e"/>
<circle cx="206.9" cy="150.0" r="1.05" fill="#7a14e6"/>
<circle cx="217.6" cy="147.8" r="1.03" fill="#7a14e6"/>
<circle cx="209.2" cy="149.8" r="1.10" fill="#18a028"/>
<circle cx="205.6" cy="156.5" r="1.28" fill="#1eb41e"/>
<circle cx="208.6" cy="145.5" r="1.29" fill="#5e0cc4"/>
<circle cx="217.2" cy="161.0" r="1.12" fill="#26c426"/>
<circle cx="214.8" cy="156.1" r="1.18" fill="#d86818"/>
<circle cx="211.9" cy="149.4" r="1.09" fill="#26c426"/>
<circle cx="214.7" cy="160.2" r="1.10" fill="#18a028"/>
<circle cx="215.1" cy="147.7" r="1.24" fill="#6a0cd6"/>
<circle cx="216.2" cy="154.1" r="1.24" fill="#18a028"/>
<circle cx="207.7" cy="160.8" r="1.13" fill="#8a22f2"/>
<circle cx="214.0" cy="149.9" r="1.13" fill="#26c426"/>
<circle cx="213.5" cy="145.5" r="1.20" fill="#8a22f2"/>
<circle cx="214.1" cy="163.3" r="1.11" fill="#6a0cd6"/>
<circle cx="212.6" cy="152.1" r="1.16" fill="#1eb41e"/>
<polygon points="322.7,158.0 320.9,156.6 318.4,155.7 318.0,153.6 316.5,151.9 316.4,149.9 317.2,148.0 317.6,146.0 318.4,143.9 321.0,143.1 322.6,141.2 325.3,141.0 327.9,140.6 330.2,141.7 333.1,141.3 334.6,143.3 336.4,144.6 338.5,146.0 338.7,148.1 339.4,150.1 338.9,152.2 337.3,153.8 336.1,155.5 334.9,157.4 332.5,158.3 330.1,159.0 327.5,159.2 324.9,159.2" fill="#3c0a7c"/>
<line x1="324.6" y1="142.6" x2="323.6" y2="140.1" stroke="#8a22f2" stroke-width="1.3" stroke-linecap="round"/>
<line x1="324.6" y1="157.5" x2="323.5" y2="160.1" stroke="#6a0cd6" stroke-width="1.3" stroke-linecap="round"/>
<line x1="326.4" y1="142.2" x2="326.0" y2="139.6" stroke="#7a14e6" stroke-width="1.3" stroke-linecap="round"/>
<line x1="335.0" y1="155.3" x2="337.5" y2="157.2" stroke="#6a0cd6" stroke-width="1.3" stroke-linecap="round"/>
<line x1="333.4" y1="156.4" x2="335.4" y2="158.7" stroke="#7a14e6" stroke-width="1.3" stroke-linecap="round"/>
<line x1="337.3" y1="148.1" x2="340.2" y2="147.6" stroke="#8a22f2" stroke-width="1.3" stroke-linecap="round"/>
<line x1="318.9" y1="146.5" x2="315.3" y2="145.1" stroke="#6a0cd6" stroke-width="1.3" stroke-linecap="round"/>
<line x1="322.4" y1="156.6" x2="320.6" y2="158.9" stroke="#6a0cd6" stroke-width="1.3" stroke-linecap="round"/>
<circle cx="321.6" cy="155.5" r="1.07" fill="#6a0cd6"/>
<circle cx="320.1" cy="148.6" r="1.31" fill="#26c426"/>
<circle cx="319.2" cy="155.4" r="1.09" fill="#8a22f2"/>
<circle cx="327.7" cy="144.4" r="1.16" fill="#1eb41e"/>
<circle cx="327.4" cy="157.7" r="1.25" fill="#18a028"/>
<circle cx="319.9" cy="144.2" r="1.14" fill="#6a0cd6"/>
<circle cx="318.4" cy="149.4" r="1.21" fill="#26c426"/>
<circle cx="329.6" cy="159.9" r="1.22" fill="#6a0cd6"/>
<circle cx="333.2" cy="152.9" r="1.25" fill="#5e0cc4"/>
<circle cx="332.9" cy="157.2" r="1.24" fill="#8a22f2"/>
<circle cx="331.6" cy="151.4" r="1.24" fill="#5e0cc4"/>
<circle cx="324.3" cy="150.9" r="1.25" fill="#c85a10"/>
<circle cx="336.5" cy="146.3" r="1.27" fill="#1eb41e"/>
<circle cx="330.8" cy="149.2" r="1.31" fill="#18a028"/>
<circle cx="339.1" cy="150.7" r="1.06" fill="#7a14e6"/>
<circle cx="329.6" cy="155.8" r="1.19" fill="#26c426"/>
<circle cx="336.4" cy="151.2" r="1.17" fill="#6a0cd6"/>
<circle cx="324.6" cy="155.6" r="1.30" fill="#18a028"/>
<circle cx="326.3" cy="150.6" r="1.04" fill="#c85a10"/>
<circle cx="333.7" cy="142.8" r="1.27" fill="#7a14e6"/>
<circle cx="315.9" cy="148.8" r="1.24" fill="#6a0cd6"/>
<circle cx="332.9" cy="144.1" r="1.04" fill="#5e0cc4"/>
<circle cx="325.5" cy="144.2" r="1.21" fill="#7a14e6"/>
<circle cx="327.1" cy="155.2" r="1.12" fill="#6a0cd6"/>
<circle cx="324.9" cy="153.5" r="1.02" fill="#6a0cd6"/>
<circle cx="330.7" cy="145.0" r="1.05" fill="#18a028"/>
<circle cx="320.4" cy="153.3" r="1.17" fill="#18a028"/>
<circle cx="329.3" cy="151.1" r="1.32" fill="#1eb41e"/>
<circle cx="318.8" cy="151.5" r="1.30" fill="#1eb41e"/>
<circle cx="322.6" cy="149.0" r="1.31" fill="#18a028"/>
<circle cx="327.9" cy="153.5" r="1.29" fill="#1eb41e"/>
<circle cx="335.2" cy="149.2" r="1.06" fill="#7a14e6"/>
<circle cx="325.7" cy="148.9" r="1.20" fill="#1eb41e"/>
<circle cx="322.8" cy="144.1" r="1.23" fill="#7a14e6"/>
<circle cx="337.9" cy="153.3" r="1.14" fill="#5e0cc4"/>
<circle cx="322.0" cy="146.9" r="1.16" fill="#18a028"/>
<circle cx="332.9" cy="148.6" r="1.13" fill="#26c426"/>
<circle cx="331.3" cy="155.4" r="1.25" fill="#26c426"/>
<circle cx="322.8" cy="157.6" r="1.23" fill="#6a0cd6"/>
<circle cx="321.3" cy="151.4" r="1.04" fill="#8a22f2"/>
<circle cx="335.1" cy="153.0" r="1.13" fill="#1eb41e"/>
<circle cx="322.4" cy="153.2" r="1.10" fill="#1eb41e"/>
<circle cx="324.1" cy="142.5" r="1.30" fill="#18a028"/>
<circle cx="329.2" cy="142.8" r="1.11" fill="#18a028"/>
<circle cx="329.9" cy="157.4" r="1.29" fill="#5e0cc4"/>
<circle cx="326.2" cy="142.3" r="1.24" fill="#6a0cd6"/>
<circle cx="338.9" cy="146.5" r="1.20" fill="#5e0cc4"/>
<circle cx="326.7" cy="147.0" r="1.03" fill="#26c426"/>
<circle cx="325.1" cy="157.4" r="1.14" fill="#5e0cc4"/>
<circle cx="318.3" cy="153.2" r="1.31" fill="#18a028"/>
<circle cx="337.8" cy="148.8" r="1.16" fill="#26c426"/>
<circle cx="328.2" cy="148.5" r="1.07" fill="#c85a10"/>
<circle cx="328.9" cy="147.0" r="1.19" fill="#26c426"/>
<circle cx="316.7" cy="146.4" r="1.15" fill="#5e0cc4"/>
<circle cx="330.2" cy="153.3" r="1.12" fill="#1eb41e"/>
<circle cx="316.9" cy="150.7" r="1.26" fill="#8a22f2"/>
<circle cx="333.9" cy="155.0" r="1.13" fill="#26c426"/>
<circle cx="333.9" cy="150.8" r="1.12" fill="#8a22f2"/>
<circle cx="332.0" cy="147.0" r="1.06" fill="#26c426"/>
<circle cx="337.6" cy="144.1" r="1.05" fill="#6a0cd6"/>
<circle cx="335.2" cy="144.3" r="1.15" fill="#5e0cc4"/>
<circle cx="331.7" cy="142.5" r="1.06" fill="#1eb41e"/>
<circle cx="324.0" cy="146.4" r="1.31" fill="#26c426"/>
<circle cx="334.4" cy="146.5" r="1.28" fill="#18a028"/>
<circle cx="318.7" cy="146.8" r="1.09" fill="#7a14e6"/>
<polygon points="477.8,180.8 474.5,180.4 471.6,179.1 468.1,179.3 466.2,176.9 464.1,175.0 462.4,172.8 462.4,170.1 461.0,167.6 462.8,165.2 464.2,163.0 465.5,160.7 467.2,158.2 470.8,158.3 473.5,156.8 476.6,157.6 479.9,157.0 482.8,158.2 485.2,159.9 487.1,162.0 489.5,164.0 489.6,166.8 488.9,169.4 489.8,172.2 487.8,174.4 486.4,176.9 483.8,178.6 480.9,179.9" fill="#3c0a7c"/>
<line x1="472.9" y1="178.3" x2="472.0" y2="181.6" stroke="#6a0cd6" stroke-width="1.3" stroke-linecap="round"/>
<line x1="483.5" y1="176.0" x2="486.7" y2="179.0" stroke="#7a14e6" stroke-width="1.3" stroke-linecap="round"/>
<line x1="463.8" y1="166.5" x2="459.8" y2="165.8" stroke="#6a0cd6" stroke-width="1.3" stroke-linecap="round"/>
<line x1="487.0" y1="165.4" x2="491.6" y2="164.2" stroke="#8a22f2" stroke-width="1.3" stroke-linecap="round"/>
<line x1="467.1" y1="161.5" x2="464.2" y2="159.1" stroke="#6a0cd6" stroke-width="1.3" stroke-linecap="round"/>
<line x1="463.8" y1="166.7" x2="459.5" y2="166.1" stroke="#7a14e6" stroke-width="1.3" stroke-linecap="round"/>
<line x1="479.9" y1="159.2" x2="481.6" y2="155.4" stroke="#8a22f2" stroke-width="1.3" stroke-linecap="round"/>
<line x1="464.1" y1="165.7" x2="460.1" y2="164.8" stroke="#7a14e6" stroke-width="1.3" stroke-linecap="round"/>
<line x1="472.2" y1="178.1" x2="471.1" y2="181.2" stroke="#7a14e6" stroke-width="1.3" stroke-linecap="round"/>
<line x1="465.0" y1="173.1" x2="461.3" y2="174.7" stroke="#8a22f2" stroke-width="1.3" stroke-linecap="round"/>
<line x1="484.9" y1="162.2" x2="487.9" y2="160.2" stroke="#6a0cd6" stroke-width="1.3" stroke-linecap="round"/>
<circle cx="485.3" cy="165.1" r="1.27" fill="#5e0cc4"/>
<circle cx="463.3" cy="173.3" r="1.15" fill="#6a0cd6"/>
<circle cx="472.3" cy="171.4" r="1.27" fill="#18a028"/>
<circle cx="476.6" cy="175.8" r="1.26" fill="#7a14e6"/>
<circle cx="489.3" cy="162.1" r="1.26" fill="#7a14e6"/>
<circle cx="485.3" cy="160.2" r="1.30" fill="#5e0cc4"/>
<circle cx="484.6" cy="166.7" r="1.20" fill="#1eb41e"/>
<circle cx="485.1" cy="173.1" r="1.21" fill="#6a0cd6"/>
<circle cx="476.4" cy="158.6" r="1.14" fill="#18a028"/>
<circle cx="475.1" cy="156.2" r="1.14" fill="#7a14e6"/>
<circle cx="469.1" cy="158.5" r="1.24" fill="#5e0cc4"/>
<circle cx="472.7" cy="165.0" r="1.22" fill="#18a028"/>
<circle cx="482.2" cy="162.6" r="1.22" fill="#26c426"/>
<circle cx="469.4" cy="166.5" r="1.13" fill="#18a028"/>
<circle cx="481.7" cy="175.4" r="1.18" fill="#7a14e6"/>
<circle cx="475.8" cy="160.2" r="1.04" fill="#7a14e6"/>
<circle cx="486.8" cy="171.4" r="1.27" fill="#6a0cd6"/>
<circle cx="482.2" cy="166.8" r="1.22" fill="#18a028"/>
<circle cx="468.0" cy="165.2" r="1.30" fill="#18a028"/>
<circle cx="468.2" cy="168.9" r="1.30" fill="#18a028"/>
<circle cx="467.7" cy="160.2" r="1.11" fill="#5e0cc4"/>
<circle cx="483.9" cy="158.3" r="1.30" fill="#7a14e6"/>
<circle cx="483.4" cy="169.4" r="1.28" fill="#6a0cd6"/>
<circle cx="466.9" cy="175.1" r="1.21" fill="#18a028"/>
<circle cx="471.7" cy="157.8" r="1.24" fill="#8a22f2"/>
<circle cx="484.3" cy="162.1" r="1.26" fill="#18a028"/>
<circle cx="479.3" cy="167.0" r="1.20" fill="#c85a10"/>
<circle cx="461.0" cy="169.4" r="1.13" fill="#6a0cd6"/>
<circle cx="470.5" cy="177.4" r="1.12" fill="#26c426"/>
<circle cx="475.4" cy="168.9" r="1.13" fill="#6a0cd6"/>
<circle cx="483.0" cy="160.4" r="1.25" fill="#1eb41e"/>
<circle cx="476.5" cy="166.8" r="1.27" fill="#8a22f2"/>
<circle cx="464.4" cy="162.1" r="1.28" fill="#7a14e6"/>
<circle cx="472.3" cy="162.3" r="1.02" fill="#26c426"/>
<circle cx="470.9" cy="165.0" r="1.28" fill="#18a028"/>
<circle cx="478.1" cy="155.7" r="1.23" fill="#7a14e6"/>
<circle cx="476.6" cy="162.3" r="1.29" fill="#1eb41e"/>
<circle cx="462.9" cy="169.2" r="1.25" fill="#6a0cd6"/>
<circle cx="486.4" cy="162.2" r="1.16" fill="#5e0cc4"/>
<circle cx="478.6" cy="169.4" r="1.19" fill="#18a028"/>
<circle cx="472.3" cy="175.5" r="1.27" fill="#7a14e6"/>
<circle cx="478.4" cy="164.4" r="1.18" fill="#26c426"/>
<circle cx="482.7" cy="177.6" r="1.26" fill="#6a0cd6"/>
<circle cx="464.7" cy="175.5" r="1.09" fill="#8a22f2"/>
<circle cx="479.0" cy="171.0" r="1.28" fill="#1eb41e"/>
<circle cx="487.1" cy="167.2" r="1.27" fill="#26c426"/>
<circle cx="478.0" cy="173.7" r="1.28" fill="#1eb41e"/>
<circle cx="468.4" cy="173.4" r="1.28" fill="#6a0cd6"/>
<circle cx="479.7" cy="158.1" r="1.31" fill="#7a14e6"/>
<circle cx="479.4" cy="162.5" r="1.19" fill="#6a0cd6"/>
<circle cx="470.5" cy="160.5" r="1.11" fill="#8a22f2"/>
<circle cx="465.9" cy="169.1" r="1.28" fill="#26c426"/>
<circle cx="485.7" cy="169.4" r="1.25" fill="#8a22f2"/>
<circle cx="488.3" cy="164.3" r="1.22" fill="#6a0cd6"/>
<circle cx="488.1" cy="169.5" r="1.13" fill="#26c426"/>
<circle cx="464.6" cy="166.6" r="1.29" fill="#18a028"/>
<circle cx="474.5" cy="158.4" r="1.23" fill="#18a028"/>
<circle cx="465.3" cy="173.4" r="1.16" fill="#5e0cc4"/>
<circle cx="462.7" cy="164.7" r="1.13" fill="#7a14e6"/>
<circle cx="473.0" cy="160.6" r="1.06" fill="#5e0cc4"/>
<circle cx="461.7" cy="170.8" r="1.12" fill="#6a0cd6"/>
<circle cx="471.4" cy="166.5" r="1.11" fill="#5e0cc4"/>
<circle cx="462.0" cy="162.2" r="1.14" fill="#8a22f2"/>
<circle cx="470.6" cy="169.0" r="1.22" fill="#1eb41e"/>
<circle cx="479.0" cy="175.1" r="1.16" fill="#1eb41e"/>
<circle cx="481.7" cy="180.1" r="1.17" fill="#5e0cc4"/>
<circle cx="465.3" cy="160.1" r="1.19" fill="#7a14e6"/>
<circle cx="475.2" cy="164.4" r="1.04" fill="#26c426"/>
<circle cx="475.9" cy="173.9" r="1.18" fill="#26c426"/>
<circle cx="478.0" cy="177.9" r="1.11" fill="#26c426"/>
<circle cx="469.6" cy="171.4" r="1.28" fill="#8a22f2"/>
<circle cx="480.1" cy="172.9" r="1.23" fill="#6a0cd6"/>
<circle cx="474.1" cy="166.6" r="1.28" fill="#18a028"/>
<circle cx="474.3" cy="175.7" r="1.17" fill="#5e0cc4"/>
<circle cx="483.5" cy="164.8" r="1.15" fill="#8a22f2"/>
<circle cx="474.1" cy="163.0" r="1.09" fill="#18a028"/>
<circle cx="476.8" cy="171.2" r="1.04" fill="#18a028"/>
<circle cx="483.9" cy="175.9" r="1.20" fill="#1eb41e"/>
<circle cx="478.4" cy="160.2" r="1.08" fill="#26c426"/>
<circle cx="472.7" cy="173.3" r="1.17" fill="#26c426"/>
<circle cx="468.1" cy="177.7" r="1.11" fill="#8a22f2"/>
<circle cx="476.8" cy="179.5" r="1.03" fill="#8a22f2"/>
<circle cx="481.8" cy="171.0" r="1.23" fill="#6a0cd6"/>
<circle cx="481.1" cy="164.3" r="1.28" fill="#1eb41e"/>
<circle cx="467.0" cy="166.7" r="1.16" fill="#8a22f2"/>
<circle cx="469.6" cy="162.6" r="1.22" fill="#6a0cd6"/>
<circle cx="472.7" cy="177.8" r="1.23" fill="#26c426"/>
<circle cx="470.6" cy="173.6" r="1.16" fill="#18a028"/>
<circle cx="484.3" cy="171.0" r="1.06" fill="#5e0cc4"/>
<circle cx="480.8" cy="160.0" r="1.21" fill="#26c426"/>
<circle cx="466.8" cy="162.9" r="1.12" fill="#5e0cc4"/>
<circle cx="471.7" cy="180.1" r="1.31" fill="#7a14e6"/>
<circle cx="480.9" cy="169.0" r="1.24" fill="#1eb41e"/>
<circle cx="467.3" cy="171.5" r="1.24" fill="#18a028"/>
<circle cx="472.6" cy="169.4" r="1.19" fill="#26c426"/>
<circle cx="489.6" cy="166.6" r="1.14" fill="#6a0cd6"/>
<circle cx="482.7" cy="173.2" r="1.07" fill="#1eb41e"/>
<circle cx="476.0" cy="177.8" r="1.15" fill="#18a028"/>
<circle cx="464.5" cy="171.2" r="1.28" fill="#6a0cd6"/>
<circle cx="481.4" cy="157.8" r="1.24" fill="#7a14e6"/>
<circle cx="469.6" cy="175.9" r="1.29" fill="#18a028"/>
<circle cx="480.4" cy="177.4" r="1.26" fill="#6a0cd6"/>
<circle cx="487.7" cy="173.1" r="1.02" fill="#7a14e6"/>
<circle cx="473.9" cy="171.7" r="1.22" fill="#1eb41e"/>
<circle cx="474.0" cy="179.6" r="1.23" fill="#5e0cc4"/>
<circle cx="465.4" cy="164.8" r="1.14" fill="#8a22f2"/>
<circle cx="452" cy="157.3" r="0.8" fill="#707070"/>
<text x="10" y="23.8" font-family="Liberation Serif, serif" font-size="18" fill="#000">A</text>
<text x="128.2" y="126.7" text-anchor="end" font-family="Liberation Serif, serif" font-size="14" fill="#fff">D=3.2 nm</text>
<text x="265.1" y="126.7" text-anchor="end" font-family="Liberation Serif, serif" font-size="14" fill="#fff">D=4.5 nm</text>
<text x="406.2" y="126.7" text-anchor="end" font-family="Liberation Serif, serif" font-size="14" fill="#fff">D=5.8 nm</text>
<text x="540.8" y="126.7" text-anchor="end" font-family="Liberation Serif, serif" font-size="14" fill="#fff">D=7.1 nm</text>
<path d="M139.5,437.26h4.2 M139.5,425.60h2.0 M139.5,413.94h4.2 M139.5,402.28h2.0 M139.5,390.62h4.2 M139.5,378.96h2.0 M139.5,367.30h4.2 M139.5,355.64h2.0 M139.5,343.98h4.2 M139.5,332.32h2.0 M139.5,320.66h4.2 M139.5,309.00h2.0 M139.5,297.34h4.2 M139.5,285.68h2.0 M139.5,274.02h4.2 M139.5,262.36h2.0 M139.5,250.70h4.2 M167.98,448.8v-2.0 M196.46,448.8v-4.2 M224.94,448.8v-2.0 M253.42,448.8v-4.2 M281.90,448.8v-2.0 M310.38,448.8v-4.2 M338.86,448.8v-2.0 M367.34,448.8v-4.2 M395.82,448.8v-2.0" stroke="#3c3c3c" stroke-width="1.2" fill="none"/>
<polyline points="139.8,320.3 140.2,335.4 141.4,337.8 143.3,336.0 144.8,330.0 146.3,329.4 148.4,324.8 150.2,329.4 152.0,327.5 154.1,328.8 156.0,328.5 157.5,327.2 159.0,327.2 160.8,322.7 162.6,319.7 164.4,325.7 165.6,326.9 167.8,325.1 169.3,323.3 171.5,318.2 172.9,320.4 174.4,324.0 175.8,322.5 176.6,322.4 178.6,322.4 179.8,324.0 181.5,327.3 183.1,323.6 185.1,323.2 187.1,320.8 188.7,315.2 190.3,309.5 191.9,315.2 192.7,320.0 194.4,316.0 196.0,311.1 197.6,314.4 199.2,319.2 201.6,322.4 203.2,319.2 204.8,321.2 206.9,319.2 208.9,320.0 210.5,320.8 212.5,315.2 213.7,321.6 214.9,324.8 215.6,325.7 217.4,328.7 219.2,330.5 221.6,332.3 224.0,334.7 226.4,335.3 228.3,330.5 230.1,325.1 231.9,322.4 233.7,325.1 234.9,328.7 236.7,328.1 237.9,332.3 239.1,338.4 240.3,339.0 241.6,336.0 243.4,336.6 244.6,337.8 246.4,343.2 247.6,345.6 248.8,345.6 250.0,343.2 251.2,342.0 253.0,340.8 254.2,338.4 256.8,342.4 258.7,347.3 260.2,350.6 261.4,349.4 263.5,353.3 265.3,350.3 267.7,346.0 269.5,345.1 270.7,347.3 272.6,356.9 275.0,359.3 278.0,363.0 279.8,358.1 281.6,356.9 283.4,358.7 285.3,369.0 287.1,363.0 288.9,364.2 290.7,367.8 292.5,366.6 294.3,357.9 295.5,361.2 297.3,358.1 299.8,355.7 301.0,361.8 302.2,372.0 303.4,370.8 305.2,386.0 307.0,378.7 308.8,376.3 310.6,386.0 311.2,378.7 313.6,378.1 315.8,376.9 317.9,388.4 319.7,382.3 321.5,373.3 323.3,372.0 325.1,367.2 326.9,366.0 329.3,373.3 332.4,381.1 334.2,378.1 336.6,370.8 339.6,363.0 342.0,369.0 343.3,369.6 345.1,363.6 346.9,361.2 348.7,366.6 350.5,357.5 352.3,361.8 354.7,365.4 357.2,361.2 359.6,355.7 361.4,358.7 363.2,363.6 365.6,367.8 367.4,364.8 369.3,359.3 370.8,360.0 372.7,352.1 373.9,359.3 375.1,363.6 376.3,358.7 378.1,364.2 379.9,359.3 381.7,354.5 383.9,360.3 385.3,358.1 387.5,354.5 389.2,370.2 390.8,355.7 392.6,354.5 395.0,345.4 396.8,347.9 398.4,366.0 400.5,355.7 402.3,357.5 404.1,359.3 405.9,359.3 407.7,358.1 409.5,370.2 410.1,382.3 410.7,396.8 410.9,416.7 412.1,413.9 413.5,404.0 414.9,398.3 417.0,404.0 418.7,408.9 420.6,405.4 422.0,413.9 423.4,422.3 423.8,430.8" fill="none" stroke="#2a2a2a" stroke-width="2" stroke-linejoin="round"/>
<polyline points="139.3,317.9 140.8,314.5 143.0,311.8 144.5,314.2" fill="none" stroke="#ff0000" stroke-width="2.2" stroke-linejoin="round" stroke-linecap="round"/>
<polyline points="150.7,315.3 153.6,310.2 155.5,314.9" fill="none" stroke="#ff0000" stroke-width="2.2" stroke-linejoin="round" stroke-linecap="round"/>
<polyline points="157.6,326.9 159.5,324.0 161.3,317.8" fill="none" stroke="#ff0000" stroke-width="2.2" stroke-linejoin="round" stroke-linecap="round"/>
<polyline points="165.6,314.2 167.1,318.2 168.5,321.8 170.0,323.3" fill="none" stroke="#ff0000" stroke-width="2.2" stroke-linejoin="round" stroke-linecap="round"/>
<polyline points="173.6,310.2 175.8,317.5" fill="none" stroke="#ff0000" stroke-width="2.2" stroke-linejoin="round" stroke-linecap="round"/>
<polyline points="182.7,318.8 184.7,321.6 186.7,322.8 187.9,318.8" fill="none" stroke="#ff0000" stroke-width="2.2" stroke-linejoin="round" stroke-linecap="round"/>
<polyline points="193.5,320.8 195.6,316.8 198.0,319.6 199.2,320.8" fill="none" stroke="#ff0000" stroke-width="2.2" stroke-linejoin="round" stroke-linecap="round"/>
<polyline points="203.6,320.8 205.2,320.0 207.3,316.8" fill="none" stroke="#ff0000" stroke-width="2.2" stroke-linejoin="round" stroke-linecap="round"/>
<polyline points="212.8,322.1 215.2,319.7 217.6,314.8" fill="none" stroke="#ff0000" stroke-width="2.2" stroke-linejoin="round" stroke-linecap="round"/>
<polyline points="224.9,306.4 226.9,303.1 228.5,300.7 229.3,303.5" fill="none" stroke="#ff0000" stroke-width="2.2" stroke-linejoin="round" stroke-linecap="round"/>
<polyline points="232.2,308.0 234.2,311.6 235.8,306.4" fill="none" stroke="#ff0000" stroke-width="2.2" stroke-linejoin="round" stroke-linecap="round"/>
<polyline points="244.3,297.5 245.1,293.9 246.7,293.1 247.9,295.9" fill="none" stroke="#ff0000" stroke-width="2.2" stroke-linejoin="round" stroke-linecap="round"/>
<polyline points="251.6,305.6 253.6,306.0 255.6,303.2 257.3,301.2" fill="none" stroke="#ff0000" stroke-width="2.2" stroke-linejoin="round" stroke-linecap="round"/>
<polyline points="262.5,298.0 264.1,295.6 265.7,296.4 267.3,294.8 269.4,293.5" fill="none" stroke="#ff0000" stroke-width="2.2" stroke-linejoin="round" stroke-linecap="round"/>
<polyline points="273.4,287.5 275.8,287.9 277.4,285.1 279.4,283.1" fill="none" stroke="#ff0000" stroke-width="2.2" stroke-linejoin="round" stroke-linecap="round"/>
<polyline points="288.0,287.5 290.4,287.1 291.6,288.7 293.2,289.9" fill="none" stroke="#ff0000" stroke-width="2.2" stroke-linejoin="round" stroke-linecap="round"/>
<polyline points="299.3,289.5 301.7,285.9 305.3,287.5" fill="none" stroke="#ff0000" stroke-width="2.2" stroke-linejoin="round" stroke-linecap="round"/>
<polyline points="310.6,291.1 311.8,294.4 313.0,298.0" fill="none" stroke="#ff0000" stroke-width="2.2" stroke-linejoin="round" stroke-linecap="round"/>
<polyline points="321.9,296.0 323.5,293.1 325.5,295.2 327.6,296.0" fill="none" stroke="#ff0000" stroke-width="2.2" stroke-linejoin="round" stroke-linecap="round"/>
<polyline points="335.3,300.8 338.1,301.2 340.1,298.4 341.7,294.4" fill="none" stroke="#ff0000" stroke-width="2.2" stroke-linejoin="round" stroke-linecap="round"/>
<polyline points="350.2,287.5 351.4,287.1 352.2,291.1 353.0,294.4" fill="none" stroke="#ff0000" stroke-width="2.2" stroke-linejoin="round" stroke-linecap="round"/>
<polyline points="361.5,286.3 363.1,288.7 365.5,290.3 367.2,290.6" fill="none" stroke="#ff0000" stroke-width="2.2" stroke-linejoin="round" stroke-linecap="round"/>
<polyline points="373.3,285.8 374.1,282.2 376.1,278.5" fill="none" stroke="#ff0000" stroke-width="2.2" stroke-linejoin="round" stroke-linecap="round"/>
<polyline points="381.7,269.3 383.4,272.5 384.6,276.5 385.4,278.5" fill="none" stroke="#ff0000" stroke-width="2.2" stroke-linejoin="round" stroke-linecap="round"/>
<polyline points="389.0,276.5 391.0,278.5 393.4,276.5 395.9,274.5 398.6,274.1" fill="none" stroke="#ff0000" stroke-width="2.2" stroke-linejoin="round" stroke-linecap="round"/>
<polyline points="403.4,273.2 404.7,275.4 405.7,277.7 407.3,276.1" fill="none" stroke="#ff0000" stroke-width="2.2" stroke-linejoin="round" stroke-linecap="round"/>
<polyline points="412.8,282.5 414.7,283.5 416.6,287.0 418.3,284.5" fill="none" stroke="#ff0000" stroke-width="2.2" stroke-linejoin="round" stroke-linecap="round"/>
<path d="M139.84,297.44L140.36,299.16 M143.80,287.40L145.40,287.60 M147.55,294.01L148.65,292.59 M155.64,285.70L156.76,284.30 M160.77,282.19L161.63,280.61 M167.74,283.93L168.66,285.47 M176.50,284.10L178.10,284.50 M183.06,281.14L184.34,279.86 M189.46,269.92L190.54,268.48 M196.27,259.74L196.93,258.06 M201.68,250.79L202.92,252.11 M210.40,254.83L211.60,256.17 M217.21,257.87L218.59,259.03 M225.74,261.91L226.06,263.69 M231.46,261.57L231.04,263.33 M236.85,264.68L235.65,266.02 M242.63,272.04L243.87,273.36 M250.60,271.03L252.00,272.17 M258.81,268.03L260.19,266.87 M265.18,268.20L266.42,269.50 M274.68,267.26L275.22,265.54 M278.80,266.02L280.10,264.78 M285.56,266.46L286.84,267.74 M295.28,270.75L296.42,272.15 M299.77,264.11L300.63,265.69 M304.73,264.90L305.87,266.30 M309.81,275.87L310.99,277.23 M317.46,273.76L318.94,272.74 M323.97,272.64L325.53,273.56 M330.47,275.96L331.13,277.64 M336.96,275.48L338.04,276.92 M344.71,278.12L346.39,277.48 M353.30,279.64L354.70,280.76 M361.73,284.56L363.27,283.64 M368.60,287.20L369.80,288.40 M375.58,282.34L377.02,281.26 M383.89,286.95L385.31,285.85 M392.92,279.86L393.88,278.34 M400.30,274.10L401.90,273.30 M406.32,269.64L407.28,271.16 M413.48,274.60L414.62,276.00 M418.90,274.80L419.50,273.50 M421.84,272.48L423.36,271.52" stroke="#0000ff" stroke-width="2.2" stroke-linecap="round" fill="none"/>
<rect x="139.40" y="300.40" width="2.2" height="2.2" fill="#ff00ff"/><rect x="142.80" y="297.70" width="2.2" height="2.2" fill="#ff00ff"/><rect x="146.00" y="297.80" width="2.2" height="2.2" fill="#ff00ff"/><rect x="147.50" y="294.70" width="2.2" height="2.2" fill="#ff00ff"/><rect x="151.00" y="293.70" width="2.2" height="2.2" fill="#ff00ff"/><rect x="154.90" y="294.70" width="2.2" height="2.2" fill="#ff00ff"/><rect x="158.10" y="292.40" width="2.2" height="2.2" fill="#ff00ff"/><rect x="161.30" y="293.70" width="2.2" height="2.2" fill="#ff00ff"/><rect x="164.10" y="291.70" width="2.2" height="2.2" fill="#ff00ff"/><rect x="165.60" y="287.70" width="2.2" height="2.2" fill="#ff00ff"/><rect x="168.10" y="290.70" width="2.2" height="2.2" fill="#ff00ff"/><rect x="172.20" y="288.70" width="2.2" height="2.2" fill="#ff00ff"/><rect x="176.20" y="287.20" width="2.2" height="2.2" fill="#ff00ff"/><rect x="179.80" y="287.70" width="2.2" height="2.2" fill="#ff00ff"/><rect x="184.10" y="288.60" width="2.2" height="2.2" fill="#ff00ff"/><rect x="187.70" y="289.90" width="2.2" height="2.2" fill="#ff00ff"/><rect x="190.10" y="289.20" width="2.2" height="2.2" fill="#ff00ff"/><rect x="192.50" y="290.50" width="2.2" height="2.2" fill="#ff00ff"/><rect x="195.50" y="289.90" width="2.2" height="2.2" fill="#ff00ff"/><rect x="196.90" y="293.70" width="2.2" height="2.2" fill="#ff00ff"/><rect x="199.90" y="290.50" width="2.2" height="2.2" fill="#ff00ff"/><rect x="202.90" y="290.80" width="2.2" height="2.2" fill="#ff00ff"/><rect x="206.00" y="293.70" width="2.2" height="2.2" fill="#ff00ff"/><rect x="209.00" y="293.70" width="2.2" height="2.2" fill="#ff00ff"/><rect x="211.80" y="293.70" width="2.2" height="2.2" fill="#ff00ff"/><rect x="214.90" y="295.60" width="2.2" height="2.2" fill="#ff00ff"/><rect x="217.80" y="295.20" width="2.2" height="2.2" fill="#ff00ff"/><rect x="219.40" y="299.20" width="2.2" height="2.2" fill="#ff00ff"/><rect x="220.60" y="303.30" width="2.2" height="2.2" fill="#ff00ff"/><rect x="223.80" y="305.70" width="2.2" height="2.2" fill="#ff00ff"/><rect x="227.40" y="304.50" width="2.2" height="2.2" fill="#ff00ff"/><rect x="229.00" y="300.80" width="2.2" height="2.2" fill="#ff00ff"/><rect x="232.30" y="301.20" width="2.2" height="2.2" fill="#ff00ff"/><rect x="235.10" y="304.50" width="2.2" height="2.2" fill="#ff00ff"/><rect x="238.70" y="305.30" width="2.2" height="2.2" fill="#ff00ff"/><rect x="242.40" y="305.30" width="2.2" height="2.2" fill="#ff00ff"/><rect x="244.00" y="301.60" width="2.2" height="2.2" fill="#ff00ff"/><rect x="245.60" y="305.70" width="2.2" height="2.2" fill="#ff00ff"/><rect x="247.60" y="308.50" width="2.2" height="2.2" fill="#ff00ff"/><rect x="250.40" y="308.50" width="2.2" height="2.2" fill="#ff00ff"/><rect x="253.70" y="305.80" width="2.2" height="2.2" fill="#ff00ff"/><rect x="257.00" y="304.90" width="2.2" height="2.2" fill="#ff00ff"/><rect x="259.80" y="304.90" width="2.2" height="2.2" fill="#ff00ff"/><rect x="262.60" y="307.00" width="2.2" height="2.2" fill="#ff00ff"/><rect x="263.80" y="311.00" width="2.2" height="2.2" fill="#ff00ff"/><rect x="266.20" y="309.00" width="2.2" height="2.2" fill="#ff00ff"/><rect x="269.50" y="307.80" width="2.2" height="2.2" fill="#ff00ff"/><rect x="272.70" y="304.90" width="2.2" height="2.2" fill="#ff00ff"/><rect x="276.30" y="303.90" width="2.2" height="2.2" fill="#ff00ff"/><rect x="279.10" y="304.10" width="2.2" height="2.2" fill="#ff00ff"/><rect x="279.90" y="307.80" width="2.2" height="2.2" fill="#ff00ff"/><rect x="282.40" y="309.80" width="2.2" height="2.2" fill="#ff00ff"/><rect x="284.00" y="313.40" width="2.2" height="2.2" fill="#ff00ff"/><rect x="285.60" y="309.80" width="2.2" height="2.2" fill="#ff00ff"/><rect x="289.30" y="310.20" width="2.2" height="2.2" fill="#ff00ff"/><rect x="292.50" y="309.50" width="2.2" height="2.2" fill="#ff00ff"/><rect x="295.80" y="309.80" width="2.2" height="2.2" fill="#ff00ff"/><rect x="297.00" y="312.80" width="2.2" height="2.2" fill="#ff00ff"/><rect x="299.80" y="310.80" width="2.2" height="2.2" fill="#ff00ff"/><rect x="303.30" y="312.60" width="2.2" height="2.2" fill="#ff00ff"/><rect x="305.80" y="315.70" width="2.2" height="2.2" fill="#ff00ff"/><rect x="309.70" y="317.00" width="2.2" height="2.2" fill="#ff00ff"/><rect x="310.80" y="313.00" width="2.2" height="2.2" fill="#ff00ff"/><rect x="313.50" y="311.20" width="2.2" height="2.2" fill="#ff00ff"/><rect x="316.30" y="313.80" width="2.2" height="2.2" fill="#ff00ff"/><rect x="319.90" y="316.60" width="2.2" height="2.2" fill="#ff00ff"/><rect x="323.70" y="317.90" width="2.2" height="2.2" fill="#ff00ff"/><rect x="327.40" y="315.00" width="2.2" height="2.2" fill="#ff00ff"/><rect x="329.50" y="318.70" width="2.2" height="2.2" fill="#ff00ff"/><rect x="331.30" y="322.30" width="2.2" height="2.2" fill="#ff00ff"/><rect x="334.50" y="319.50" width="2.2" height="2.2" fill="#ff00ff"/><rect x="336.10" y="323.20" width="2.2" height="2.2" fill="#ff00ff"/><rect x="337.30" y="326.80" width="2.2" height="2.2" fill="#ff00ff"/><rect x="339.70" y="330.20" width="2.2" height="2.2" fill="#ff00ff"/><rect x="341.50" y="327.20" width="2.2" height="2.2" fill="#ff00ff"/><rect x="344.00" y="326.30" width="2.2" height="2.2" fill="#ff00ff"/><rect x="346.40" y="324.10" width="2.2" height="2.2" fill="#ff00ff"/><rect x="347.60" y="328.40" width="2.2" height="2.2" fill="#ff00ff"/><rect x="348.80" y="326.50" width="2.2" height="2.2" fill="#ff00ff"/><rect x="351.50" y="324.70" width="2.2" height="2.2" fill="#ff00ff"/><rect x="354.60" y="325.60" width="2.2" height="2.2" fill="#ff00ff"/><rect x="357.00" y="323.50" width="2.2" height="2.2" fill="#ff00ff"/><rect x="359.10" y="321.10" width="2.2" height="2.2" fill="#ff00ff"/><rect x="360.90" y="324.70" width="2.2" height="2.2" fill="#ff00ff"/><rect x="362.30" y="320.50" width="2.2" height="2.2" fill="#ff00ff"/><rect x="364.30" y="316.90" width="2.2" height="2.2" fill="#ff00ff"/><rect x="366.70" y="318.20" width="2.2" height="2.2" fill="#ff00ff"/><rect x="369.70" y="321.30" width="2.2" height="2.2" fill="#ff00ff"/><rect x="370.90" y="325.50" width="2.2" height="2.2" fill="#ff00ff"/><rect x="372.80" y="328.90" width="2.2" height="2.2" fill="#ff00ff"/><rect x="375.50" y="331.80" width="2.2" height="2.2" fill="#ff00ff"/><rect x="378.80" y="332.50" width="2.2" height="2.2" fill="#ff00ff"/><rect x="380.60" y="330.10" width="2.2" height="2.2" fill="#ff00ff"/><rect x="382.80" y="334.00" width="2.2" height="2.2" fill="#ff00ff"/><rect x="385.70" y="332.50" width="2.2" height="2.2" fill="#ff00ff"/><rect x="388.10" y="328.50" width="2.2" height="2.2" fill="#ff00ff"/><rect x="389.70" y="324.50" width="2.2" height="2.2" fill="#ff00ff"/><rect x="392.50" y="324.50" width="2.2" height="2.2" fill="#ff00ff"/><rect x="394.50" y="325.30" width="2.2" height="2.2" fill="#ff00ff"/><rect x="396.60" y="327.70" width="2.2" height="2.2" fill="#ff00ff"/><rect x="398.20" y="327.00" width="2.2" height="2.2" fill="#ff00ff"/><rect x="399.40" y="323.70" width="2.2" height="2.2" fill="#ff00ff"/><rect x="400.20" y="327.90" width="2.2" height="2.2" fill="#ff00ff"/><rect x="400.90" y="331.50" width="2.2" height="2.2" fill="#ff00ff"/><rect x="403.00" y="328.50" width="2.2" height="2.2" fill="#ff00ff"/><rect x="407.00" y="327.90" width="2.2" height="2.2" fill="#ff00ff"/><rect x="409.90" y="324.90" width="2.2" height="2.2" fill="#ff00ff"/><rect x="410.90" y="324.30" width="2.2" height="2.2" fill="#ff00ff"/><rect x="413.00" y="325.70" width="2.2" height="2.2" fill="#ff00ff"/><rect x="415.90" y="324.90" width="2.2" height="2.2" fill="#ff00ff"/><rect x="417.10" y="321.30" width="2.2" height="2.2" fill="#ff00ff"/><rect x="419.90" y="324.50" width="2.2" height="2.2" fill="#ff00ff"/>
<rect x="139.5" y="239.3" width="284.8" height="209.5" fill="none" stroke="#3c3c3c" stroke-width="1.2"/>
<text x="134.2" y="443.0" text-anchor="end" font-family="Liberation Serif, serif" font-weight="bold" font-size="14.2">−4</text>
<text x="134.2" y="419.5" text-anchor="end" font-family="Liberation Serif, serif" font-weight="bold" font-size="14.2">−2</text>
<text x="134.2" y="396.1" text-anchor="end" font-family="Liberation Serif, serif" font-weight="bold" font-size="14.2">0</text>
<text x="134.2" y="372.7" text-anchor="end" font-family="Liberation Serif, serif" font-weight="bold" font-size="14.2">2</text>
<text x="134.2" y="349.3" text-anchor="end" font-family="Liberation Serif, serif" font-weight="bold" font-size="14.2">4</text>
<text x="134.2" y="325.9" text-anchor="end" font-family="Liberation Serif, serif" font-weight="bold" font-size="14.2">6</text>
<text x="134.2" y="302.4" text-anchor="end" font-family="Liberation Serif, serif" font-weight="bold" font-size="14.2">8</text>
<text x="134.2" y="279.0" text-anchor="end" font-family="Liberation Serif, serif" font-weight="bold" font-size="14.2">10</text>
<text x="134.2" y="255.6" text-anchor="end" font-family="Liberation Serif, serif" font-weight="bold" font-size="14.2">12</text>
<text x="139.5" y="465.3" text-anchor="middle" font-family="Liberation Serif, serif" font-weight="bold" font-size="14.2">0</text>
<text x="196.5" y="465.3" text-anchor="middle" font-family="Liberation Serif, serif" font-weight="bold" font-size="14.2">1000</text>
<text x="253.4" y="465.3" text-anchor="middle" font-family="Liberation Serif, serif" font-weight="bold" font-size="14.2">2000</text>
<text x="310.4" y="465.3" text-anchor="middle" font-family="Liberation Serif, serif" font-weight="bold" font-size="14.2">3000</text>
<text x="367.3" y="465.3" text-anchor="middle" font-family="Liberation Serif, serif" font-weight="bold" font-size="14.2">4000</text>
<text x="424.3" y="465.3" text-anchor="middle" font-family="Liberation Serif, serif" font-weight="bold" font-size="14.2">5000</text>
<text x="282.5" y="488.2" text-anchor="middle" font-family="Liberation Serif, serif" font-weight="bold" font-size="18.3">Time (ns)</text>
<text transform="translate(109.8,339) rotate(-90)" text-anchor="middle" font-family="Liberation Serif, serif" font-weight="bold" font-size="17.8">Distance (nm)</text>
<text x="152.5" y="261.7" font-family="Liberation Serif, serif" font-weight="bold" font-size="17.5">B</text>
<line x1="160.5" y1="368.9" x2="184.7" y2="368.9" stroke="#2a2a2a" stroke-width="2"/>
<path d="M160.5,386.9h10.6M181.8,386.9h2.7" stroke="#ff0000" stroke-width="2.2"/>
<path d="M161.6,404.6h1.2M174.1,404.6h1.2" stroke="#0000ff" stroke-width="2.3" stroke-linecap="round"/>
<path d="M160.5,422.7h80" stroke="#ff00ff" stroke-width="2.2" stroke-dasharray="2.2 2.3" style="display:none"/>
<rect x="160.20" y="421.5" width="2.2" height="2.2" fill="#ff00ff"/><rect x="164.38" y="421.5" width="2.2" height="2.2" fill="#ff00ff"/><rect x="168.56" y="421.5" width="2.2" height="2.2" fill="#ff00ff"/><rect x="172.74" y="421.5" width="2.2" height="2.2" fill="#ff00ff"/><rect x="176.92" y="421.5" width="2.2" height="2.2" fill="#ff00ff"/><rect x="181.10" y="421.5" width="2.2" height="2.2" fill="#ff00ff"/>
<text x="189.3" y="372.7" font-family="Liberation Serif, serif" font-weight="bold" font-size="14">3.2</text>
<text x="187.9" y="390.7" font-family="Liberation Serif, serif" font-weight="bold" font-size="14">4.5</text>
<text x="187.9" y="409.6" font-family="Liberation Serif, serif" font-weight="bold" font-size="14">5.8</text>
<text x="187.9" y="426.5" font-family="Liberation Serif, serif" font-weight="bold" font-size="14">7.1</text>
</svg>
</body></html>
